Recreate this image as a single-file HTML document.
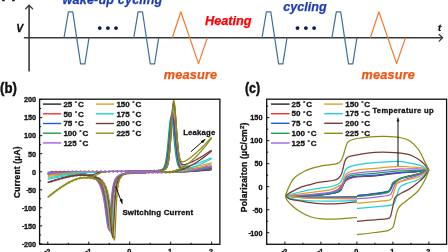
<!DOCTYPE html>
<html><head><meta charset="utf-8"><style>
html,body{margin:0;padding:0;background:#fff;width:448px;height:252px;overflow:hidden}
svg{display:block}
.b{font-family:"Liberation Sans",Arial,sans-serif;font-weight:bold;stroke:#111;stroke-width:0.3px}
.bi{font-family:"Liberation Sans",Arial,sans-serif;font-weight:bold;font-style:italic}
</style></head><body>
<svg width="448" height="252" viewBox="0 0 448 252">
<rect width="448" height="252" fill="#fff"/>
<g fill="none" stroke-linejoin="round">
<path d="M29.1,71.6 V5.8" stroke="#3a3a3a" stroke-width="1.6"/>
<path d="M25.7,8.7 L29.1,5.2 L32.6,8.7" stroke="#3a3a3a" stroke-width="1.3" stroke-linecap="round" stroke-linejoin="round"/>
<path d="M23.9,37.8 H442" stroke="#3a3a3a" stroke-width="1.6"/>
<path d="M439.2,34.5 L442.6,37.8 L439.2,41.1" stroke="#3a3a3a" stroke-width="1.3" stroke-linecap="round" stroke-linejoin="round"/>
<path d="M64,37.8 L68.4,11.8 L72.8,11.8 L80.6,63.8 L84.9,63.8 L89,37.8" stroke="#3f6e9f" stroke-width="1.2"/>
<path d="M133.7,37.8 L138.1,11.8 L142.5,11.8 L150.3,63.8 L154.6,63.8 L158.7,37.8" stroke="#3f6e9f" stroke-width="1.2"/>
<path d="M262,37.8 L266.4,11.8 L270.8,11.8 L278.6,63.8 L282.9,63.8 L287,37.8" stroke="#3f6e9f" stroke-width="1.2"/>
<path d="M331.9,37.8 L336.3,11.8 L340.7,11.8 L348.5,63.8 L352.8,63.8 L356.9,37.8" stroke="#3f6e9f" stroke-width="1.2"/>
<path d="M172.3,37.8 L180.8,11.8 L198.5,63.6 L207.4,37.8" stroke="#f07a30" stroke-width="1.2"/>
<path d="M370.4,37.8 L378.9,11.8 L396.6,63.6 L405.5,37.8" stroke="#f07a30" stroke-width="1.2"/>
</g>
<circle cx="99.75" cy="28.1" r="1.95" fill="#0e1e4e"/>
<circle cx="107.9" cy="28.1" r="1.95" fill="#0e1e4e"/>
<circle cx="116" cy="28.1" r="1.95" fill="#0e1e4e"/>
<circle cx="297.5" cy="28.1" r="1.95" fill="#0e1e4e"/>
<circle cx="305.9" cy="28.1" r="1.95" fill="#0e1e4e"/>
<circle cx="314.1" cy="28.1" r="1.95" fill="#0e1e4e"/>
<text x="62.6" y="3.7" class="bi" font-size="12.6" fill="#1c3cb5" stroke="#1c3cb5" stroke-width="0.25" textLength="99.6">wake-up cycling</text>
<text x="205" y="24.5" class="bi" font-size="12.7" fill="#ff0000" stroke="#ff0000" stroke-width="0.25">Heating</text>
<text x="283.2" y="11.2" class="bi" font-size="12.6" fill="#1c3cb5" stroke="#1c3cb5" stroke-width="0.25">cycling</text>
<text x="163.7" y="78.8" class="bi" font-size="12.7" fill="#f05412" stroke="#f05412" stroke-width="0.25" textLength="53.4">measure</text>
<text x="361.5" y="78.8" class="bi" font-size="12.7" fill="#f05412" stroke="#f05412" stroke-width="0.25" textLength="53.4">measure</text>
<text x="16.3" y="31.7" class="bi" font-size="10.4" fill="#111" stroke="#111" stroke-width="0.3">V</text>
<text x="438.1" y="31.2" class="bi" font-size="9.4" fill="#111" stroke="#111" stroke-width="0.3">t</text>
<text transform="translate(0,-2.4) scale(1,1.12)" class="b" font-size="13.6" fill="#111" style="stroke-width:0.4px" textLength="16.8" lengthAdjust="spacingAndGlyphs">(a)</text>
<text transform="translate(0,92.9) scale(1,1.12)" class="b" font-size="13.6" fill="#111" style="stroke-width:0.4px" textLength="16.8" lengthAdjust="spacingAndGlyphs">(b)</text>
<text transform="translate(244.9,93) scale(1,1.12)" class="b" font-size="13.6" fill="#111" style="stroke-width:0.4px" textLength="15.2" lengthAdjust="spacingAndGlyphs">(c)</text>
<g fill="none" stroke-width="1.15" stroke-linejoin="round">
<path d="M47.8,172.23 L48.31,172.22 L48.82,172.21 L49.34,172.2 L49.85,172.18 L50.36,172.17 L50.87,172.16 L51.38,172.15 L51.89,172.14 L52.41,172.12 L52.92,172.11 L53.43,172.1 L53.94,172.09 L54.45,172.08 L54.97,172.07 L55.48,172.06 L55.99,172.04 L56.5,172.03 L57.01,172.02 L57.53,172.01 L58.04,172 L58.55,171.99 L59.06,171.98 L59.57,171.97 L60.08,171.96 L60.6,171.95 L61.11,171.94 L61.62,171.93 L62.13,171.92 L62.64,171.91 L63.16,171.9 L63.67,171.89 L64.18,171.88 L64.69,171.87 L65.2,171.86 L65.72,171.85 L66.23,171.84 L66.74,171.83 L67.25,171.82 L67.76,171.81 L68.27,171.8 L68.79,171.79 L69.3,171.78 L69.81,171.78 L70.32,171.77 L70.83,171.76 L71.35,171.75 L71.86,171.74 L72.37,171.73 L72.88,171.73 L73.39,171.72 L73.91,171.71 L74.42,171.7 L74.93,171.69 L75.44,171.69 L75.95,171.68 L76.46,171.67 L76.98,171.67 L77.49,171.66 L78,171.65 L78.51,171.64 L79.02,171.64 L79.54,171.63 L80.05,171.62 L80.56,171.62 L81.07,171.61 L81.58,171.61 L82.1,171.6 L82.61,171.59 L83.12,171.59 L83.63,171.58 L84.14,171.58 L84.65,171.57 L85.17,171.57 L85.68,171.56 L86.19,171.56 L86.7,171.55 L87.21,171.55 L87.73,171.54 L88.24,171.54 L88.75,171.53 L89.26,171.53 L89.77,171.53 L90.29,171.52 L90.8,171.52 L91.31,171.52 L91.82,171.51 L92.33,171.51 L92.84,171.51 L93.36,171.51 L93.87,171.51 L94.38,171.5 L94.89,171.5 L95.4,171.5 L95.92,171.5 L96.43,171.5 L96.94,171.5 L97.45,171.5 L97.96,171.5 L98.48,171.5 L98.99,171.5 L99.5,171.5 L100.01,171.5 L100.52,171.5 L101.03,171.5 L101.55,171.5 L102.06,171.5 L102.57,171.5 L103.08,171.5 L103.59,171.5 L104.11,171.49 L104.62,171.49 L105.13,171.49 L105.64,171.49 L106.15,171.49 L106.67,171.49 L107.18,171.49 L107.69,171.49 L108.2,171.49 L108.71,171.49 L109.22,171.49 L109.74,171.49 L110.25,171.49 L110.76,171.49 L111.27,171.49 L111.78,171.48 L112.3,171.48 L112.81,171.48 L113.32,171.48 L113.83,171.48 L114.34,171.48 L114.86,171.48 L115.37,171.48 L115.88,171.48 L116.39,171.48 L116.9,171.47 L117.41,171.47 L117.93,171.47 L118.44,171.47 L118.95,171.47 L119.46,171.47 L119.97,171.47 L120.49,171.47 L121,171.47 L121.51,171.46 L122.02,171.46 L122.53,171.46 L123.05,171.46 L123.56,171.46 L124.07,171.46 L124.58,171.45 L125.09,171.45 L125.6,171.45 L126.12,171.45 L126.63,171.45 L127.14,171.45 L127.65,171.44 L128.16,171.44 L128.68,171.44 L129.19,171.44 L129.7,171.43 L130.21,171.43 L130.72,171.43 L131.24,171.43 L131.75,171.42 L132.26,171.42 L132.77,171.42 L133.28,171.42 L133.79,171.41 L134.31,171.41 L134.82,171.41 L135.33,171.4 L135.84,171.4 L136.35,171.4 L136.87,171.39 L137.38,171.39 L137.89,171.38 L138.4,171.38 L138.91,171.37 L139.43,171.37 L139.94,171.36 L140.45,171.36 L140.96,171.35 L141.47,171.35 L141.98,171.34 L142.5,171.33 L143.01,171.33 L143.52,171.32 L144.03,171.31 L144.54,171.3 L145.06,171.29 L145.57,171.28 L146.08,171.28 L146.59,171.26 L147.1,171.25 L147.62,171.24 L148.13,171.23 L148.64,171.22 L149.15,171.2 L149.66,171.19 L150.17,171.17 L150.69,171.16 L151.2,171.14 L151.71,171.12 L152.22,171.1 L152.73,171.08 L153.25,171.05 L153.76,171.02 L154.27,171 L154.78,170.97 L155.29,170.93 L155.81,170.9 L156.32,170.86 L156.83,170.81 L157.34,170.76 L157.85,170.71 L158.37,170.65 L158.88,170.59 L159.39,170.52 L159.9,170.43 L160.41,170.34 L160.92,170.24 L161.44,170.11 L161.95,169.96 L162.46,169.78 L162.97,169.54 L163.48,169.23 L164,168.81 L164.51,168.22 L165.02,167.41 L165.53,166.28 L166.04,164.75 L166.55,162.71 L167.07,160.05 L167.58,156.7 L168.09,152.61 L168.6,147.81 L169.11,142.4 L169.63,136.59 L170.14,130.68 L170.65,125.1 L171.16,120.35 L171.67,116.99 L172.19,115.51 L172.7,116.05 L173.21,118.39 L173.72,122.19 L174.23,127.02 L174.75,132.4 L175.26,137.94 L175.77,143.32 L176.28,148.29 L176.79,152.71 L177.3,156.5 L177.82,159.63 L178.33,162.15 L178.84,164.12 L179.35,165.61 L179.86,166.73 L180.38,167.55 L180.89,168.15 L181.4,168.58 L181.91,168.89 L182.42,169.12 L182.94,169.3 L183.45,169.43 L183.96,169.54 L184.47,169.62 L184.98,169.69 L185.49,169.75 L186.01,169.8 L186.52,169.84 L187.03,169.87 L187.54,169.9 L188.05,169.92 L188.57,169.94 L189.08,169.95 L189.59,169.96 L190.1,169.96 L190.61,169.96 L191.12,169.96 L191.64,169.96 L192.15,169.95 L192.66,169.94 L193.17,169.93 L193.68,169.92 L194.2,169.91 L194.71,169.89 L195.22,169.87 L195.73,169.85 L196.24,169.83 L196.76,169.81 L197.27,169.79 L197.78,169.77 L198.29,169.74 L198.8,169.72 L199.31,169.69 L199.83,169.67 L200.34,169.64 L200.85,169.61 L201.36,169.58 L201.87,169.55 L202.39,169.52 L202.9,169.49 L203.41,169.46 L203.92,169.42 L204.43,169.39 L204.95,169.36 L205.46,169.32 L205.97,169.29 L206.48,169.25 L206.99,169.22 L207.5,169.18 L208.02,169.14 L208.53,169.11 L209.04,169.07 L209.55,169.03 L210.06,168.99 L210.58,168.95 L211.09,168.92 L211.6,168.88" stroke="#222222"/>
<path d="M47.8,173.31 L48.31,173.31 L48.82,173.3 L49.34,173.29 L49.85,173.29 L50.36,173.28 L50.87,173.27 L51.38,173.27 L51.89,173.26 L52.41,173.26 L52.92,173.25 L53.43,173.24 L53.94,173.24 L54.45,173.23 L54.97,173.23 L55.48,173.23 L55.99,173.22 L56.5,173.22 L57.01,173.22 L57.53,173.21 L58.04,173.21 L58.55,173.21 L59.06,173.21 L59.57,173.21 L60.08,173.2 L60.6,173.2 L61.11,173.2 L61.62,173.2 L62.13,173.2 L62.64,173.2 L63.16,173.21 L63.67,173.21 L64.18,173.21 L64.69,173.21 L65.2,173.22 L65.72,173.22 L66.23,173.23 L66.74,173.23 L67.25,173.24 L67.76,173.24 L68.27,173.25 L68.79,173.26 L69.3,173.27 L69.81,173.28 L70.32,173.29 L70.83,173.3 L71.35,173.31 L71.86,173.32 L72.37,173.33 L72.88,173.35 L73.39,173.37 L73.91,173.38 L74.42,173.4 L74.93,173.42 L75.44,173.44 L75.95,173.46 L76.46,173.49 L76.98,173.51 L77.49,173.54 L78,173.57 L78.51,173.6 L79.02,173.63 L79.54,173.66 L80.05,173.7 L80.56,173.74 L81.07,173.78 L81.58,173.82 L82.1,173.87 L82.61,173.92 L83.12,173.97 L83.63,174.03 L84.14,174.09 L84.65,174.15 L85.17,174.22 L85.68,174.29 L86.19,174.37 L86.7,174.45 L87.21,174.54 L87.73,174.64 L88.24,174.74 L88.75,174.85 L89.26,174.97 L89.77,175.1 L90.29,175.24 L90.8,175.39 L91.31,175.55 L91.82,175.73 L92.33,175.92 L92.84,176.13 L93.36,176.35 L93.87,176.6 L94.38,176.87 L94.89,177.16 L95.4,177.49 L95.92,177.84 L96.43,178.24 L96.94,178.67 L97.45,179.15 L97.96,179.69 L98.48,180.28 L98.99,180.95 L99.5,181.7 L100.01,182.54 L100.52,183.49 L101.03,184.57 L101.55,185.8 L102.06,187.19 L102.57,188.78 L103.08,190.6 L103.59,192.68 L104.11,195.05 L104.62,197.75 L105.13,200.81 L105.64,204.23 L106.15,208 L106.67,212.06 L107.18,216.25 L107.69,220.37 L108.2,224.09 L108.71,227.04 L109.22,228.86 L109.74,229.22 L110.25,225.75 L110.76,218.86 L111.27,210.94 L111.78,203.64 L112.3,197.57 L112.81,192.77 L113.32,189.03 L113.83,186.13 L114.34,183.86 L114.86,182.07 L115.37,180.65 L115.88,179.5 L116.39,178.56 L116.9,177.79 L117.41,177.15 L117.93,176.62 L118.44,176.16 L118.95,175.77 L119.46,175.44 L119.97,175.15 L120.49,174.9 L121,174.68 L121.51,174.49 L122.02,174.31 L122.53,174.16 L123.05,174.03 L123.56,173.9 L124.07,173.79 L124.58,173.7 L125.09,173.61 L125.6,173.53 L126.12,173.45 L126.63,173.38 L127.14,173.32 L127.65,173.27 L128.16,173.21 L128.68,173.17 L129.19,173.12 L129.7,173.08 L130.21,173.04 L130.72,173.01 L131.24,172.97 L131.75,172.94 L132.26,172.91 L132.77,172.89 L133.28,172.86 L133.79,172.84 L134.31,172.82 L134.82,172.79 L135.33,172.77 L135.84,172.76 L136.35,172.74 L136.87,172.72 L137.38,172.71 L137.89,172.69 L138.4,172.68 L138.91,172.66 L139.43,172.65 L139.94,172.64 L140.45,172.63 L140.96,172.62 L141.47,172.61 L141.98,172.6 L142.5,172.59 L143.01,172.58 L143.52,172.57 L144.03,172.56 L144.54,172.55 L145.06,172.55 L145.57,172.54 L146.08,172.53 L146.59,172.53 L147.1,172.52 L147.62,172.51 L148.13,172.51 L148.64,172.5 L149.15,172.5 L149.66,172.49 L150.17,172.49 L150.69,172.48 L151.2,172.48 L151.71,172.47 L152.22,172.47 L152.73,172.46 L153.25,172.46 L153.76,172.46 L154.27,172.45 L154.78,172.45 L155.29,172.45 L155.81,172.44 L156.32,172.44 L156.83,172.44 L157.34,172.43 L157.85,172.43 L158.37,172.43 L158.88,172.42 L159.39,172.42 L159.9,172.42 L160.41,172.42 L160.92,172.41 L161.44,172.41 L161.95,172.41 L162.46,172.41 L162.97,172.4 L163.48,172.4 L164,172.4 L164.51,172.4 L165.02,172.4 L165.53,172.39 L166.04,172.39 L166.55,172.39 L167.07,172.39 L167.58,172.38 L168.09,172.38 L168.6,172.38 L169.11,172.37 L169.63,172.36 L170.14,172.36 L170.65,172.35 L171.16,172.34 L171.67,172.33 L172.19,172.32 L172.7,172.31 L173.21,172.3 L173.72,172.29 L174.23,172.27 L174.75,172.26 L175.26,172.25 L175.77,172.23 L176.28,172.22 L176.79,172.2 L177.3,172.18 L177.82,172.17 L178.33,172.15 L178.84,172.13 L179.35,172.11 L179.86,172.09 L180.38,172.07 L180.89,172.05 L181.4,172.03 L181.91,172.01 L182.42,171.99 L182.94,171.96 L183.45,171.94 L183.96,171.91 L184.47,171.89 L184.98,171.86 L185.49,171.84 L186.01,171.81 L186.52,171.79 L187.03,171.76 L187.54,171.73 L188.05,171.7 L188.57,171.67 L189.08,171.64 L189.59,171.61 L190.1,171.58 L190.61,171.55 L191.12,171.52 L191.64,171.48 L192.15,171.45 L192.66,171.42 L193.17,171.38 L193.68,171.35 L194.2,171.31 L194.71,171.28 L195.22,171.24 L195.73,171.2 L196.24,171.17 L196.76,171.13 L197.27,171.09 L197.78,171.05 L198.29,171.01 L198.8,170.97 L199.31,170.93 L199.83,170.89 L200.34,170.85 L200.85,170.8 L201.36,170.76 L201.87,170.72 L202.39,170.67 L202.9,170.63 L203.41,170.58 L203.92,170.54 L204.43,170.49 L204.95,170.45 L205.46,170.4 L205.97,170.35 L206.48,170.3 L206.99,170.26 L207.5,170.21 L208.02,170.16 L208.53,170.11 L209.04,170.06 L209.55,170.01 L210.06,169.95 L210.58,169.9 L211.09,169.85 L211.6,169.8" stroke="#222222"/>
<path d="M50.94,172.14a0.95,0.95 0 1,0 1.9,0a0.95,0.95 0 1,0 -1.9,0M55.04,172.04a0.95,0.95 0 1,0 1.9,0a0.95,0.95 0 1,0 -1.9,0M59.13,171.96a0.95,0.95 0 1,0 1.9,0a0.95,0.95 0 1,0 -1.9,0M63.23,171.88a0.95,0.95 0 1,0 1.9,0a0.95,0.95 0 1,0 -1.9,0M67.32,171.8a0.95,0.95 0 1,0 1.9,0a0.95,0.95 0 1,0 -1.9,0M71.42,171.73a0.95,0.95 0 1,0 1.9,0a0.95,0.95 0 1,0 -1.9,0M75.51,171.67a0.95,0.95 0 1,0 1.9,0a0.95,0.95 0 1,0 -1.9,0M79.61,171.62a0.95,0.95 0 1,0 1.9,0a0.95,0.95 0 1,0 -1.9,0M83.7,171.57a0.95,0.95 0 1,0 1.9,0a0.95,0.95 0 1,0 -1.9,0M87.8,171.53a0.95,0.95 0 1,0 1.9,0a0.95,0.95 0 1,0 -1.9,0M91.89,171.51a0.95,0.95 0 1,0 1.9,0a0.95,0.95 0 1,0 -1.9,0M95.99,171.5a0.95,0.95 0 1,0 1.9,0a0.95,0.95 0 1,0 -1.9,0M100.08,171.5a0.95,0.95 0 1,0 1.9,0a0.95,0.95 0 1,0 -1.9,0M104.18,171.49a0.95,0.95 0 1,0 1.9,0a0.95,0.95 0 1,0 -1.9,0M108.27,171.49a0.95,0.95 0 1,0 1.9,0a0.95,0.95 0 1,0 -1.9,0M112.37,171.48a0.95,0.95 0 1,0 1.9,0a0.95,0.95 0 1,0 -1.9,0M116.46,171.47a0.95,0.95 0 1,0 1.9,0a0.95,0.95 0 1,0 -1.9,0M120.56,171.46a0.95,0.95 0 1,0 1.9,0a0.95,0.95 0 1,0 -1.9,0M124.65,171.45a0.95,0.95 0 1,0 1.9,0a0.95,0.95 0 1,0 -1.9,0M128.75,171.43a0.95,0.95 0 1,0 1.9,0a0.95,0.95 0 1,0 -1.9,0M132.84,171.41a0.95,0.95 0 1,0 1.9,0a0.95,0.95 0 1,0 -1.9,0M136.94,171.38a0.95,0.95 0 1,0 1.9,0a0.95,0.95 0 1,0 -1.9,0M141.03,171.34a0.95,0.95 0 1,0 1.9,0a0.95,0.95 0 1,0 -1.9,0M145.13,171.28a0.95,0.95 0 1,0 1.9,0a0.95,0.95 0 1,0 -1.9,0M149.22,171.17a0.95,0.95 0 1,0 1.9,0a0.95,0.95 0 1,0 -1.9,0M153.32,171a0.95,0.95 0 1,0 1.9,0a0.95,0.95 0 1,0 -1.9,0M157.42,170.65a0.95,0.95 0 1,0 1.9,0a0.95,0.95 0 1,0 -1.9,0M161.51,169.78a0.95,0.95 0 1,0 1.9,0a0.95,0.95 0 1,0 -1.9,0M164.58,166.28a0.95,0.95 0 1,0 1.9,0a0.95,0.95 0 1,0 -1.9,0M179.94,168.15a0.95,0.95 0 1,0 1.9,0a0.95,0.95 0 1,0 -1.9,0M184.03,169.69a0.95,0.95 0 1,0 1.9,0a0.95,0.95 0 1,0 -1.9,0M188.13,169.95a0.95,0.95 0 1,0 1.9,0a0.95,0.95 0 1,0 -1.9,0M192.22,169.93a0.95,0.95 0 1,0 1.9,0a0.95,0.95 0 1,0 -1.9,0M196.32,169.79a0.95,0.95 0 1,0 1.9,0a0.95,0.95 0 1,0 -1.9,0M200.41,169.58a0.95,0.95 0 1,0 1.9,0a0.95,0.95 0 1,0 -1.9,0M204.51,169.32a0.95,0.95 0 1,0 1.9,0a0.95,0.95 0 1,0 -1.9,0M208.6,169.03a0.95,0.95 0 1,0 1.9,0a0.95,0.95 0 1,0 -1.9,0" stroke="#222222" stroke-width="0.55"/>
<path d="M47.8,172.59 L48.31,172.57 L48.82,172.55 L49.34,172.53 L49.85,172.51 L50.36,172.5 L50.87,172.48 L51.38,172.46 L51.89,172.44 L52.41,172.42 L52.92,172.41 L53.43,172.39 L53.94,172.37 L54.45,172.36 L54.97,172.34 L55.48,172.32 L55.99,172.31 L56.5,172.29 L57.01,172.27 L57.53,172.26 L58.04,172.24 L58.55,172.22 L59.06,172.21 L59.57,172.19 L60.08,172.18 L60.6,172.16 L61.11,172.15 L61.62,172.13 L62.13,172.11 L62.64,172.1 L63.16,172.08 L63.67,172.07 L64.18,172.06 L64.69,172.04 L65.2,172.03 L65.72,172.01 L66.23,172 L66.74,171.98 L67.25,171.97 L67.76,171.96 L68.27,171.94 L68.79,171.93 L69.3,171.92 L69.81,171.9 L70.32,171.89 L70.83,171.88 L71.35,171.87 L71.86,171.85 L72.37,171.84 L72.88,171.83 L73.39,171.82 L73.91,171.81 L74.42,171.79 L74.93,171.78 L75.44,171.77 L75.95,171.76 L76.46,171.75 L76.98,171.74 L77.49,171.73 L78,171.72 L78.51,171.71 L79.02,171.7 L79.54,171.69 L80.05,171.68 L80.56,171.67 L81.07,171.66 L81.58,171.65 L82.1,171.64 L82.61,171.63 L83.12,171.63 L83.63,171.62 L84.14,171.61 L84.65,171.6 L85.17,171.59 L85.68,171.59 L86.19,171.58 L86.7,171.57 L87.21,171.57 L87.73,171.56 L88.24,171.55 L88.75,171.55 L89.26,171.54 L89.77,171.54 L90.29,171.53 L90.8,171.53 L91.31,171.52 L91.82,171.52 L92.33,171.51 L92.84,171.51 L93.36,171.51 L93.87,171.5 L94.38,171.5 L94.89,171.5 L95.4,171.5 L95.92,171.5 L96.43,171.5 L96.94,171.5 L97.45,171.5 L97.96,171.5 L98.48,171.5 L98.99,171.5 L99.5,171.5 L100.01,171.5 L100.52,171.5 L101.03,171.5 L101.55,171.5 L102.06,171.5 L102.57,171.49 L103.08,171.49 L103.59,171.49 L104.11,171.49 L104.62,171.49 L105.13,171.49 L105.64,171.49 L106.15,171.49 L106.67,171.49 L107.18,171.49 L107.69,171.49 L108.2,171.49 L108.71,171.49 L109.22,171.49 L109.74,171.49 L110.25,171.48 L110.76,171.48 L111.27,171.48 L111.78,171.48 L112.3,171.48 L112.81,171.48 L113.32,171.48 L113.83,171.48 L114.34,171.48 L114.86,171.48 L115.37,171.48 L115.88,171.47 L116.39,171.47 L116.9,171.47 L117.41,171.47 L117.93,171.47 L118.44,171.47 L118.95,171.47 L119.46,171.47 L119.97,171.46 L120.49,171.46 L121,171.46 L121.51,171.46 L122.02,171.46 L122.53,171.46 L123.05,171.46 L123.56,171.45 L124.07,171.45 L124.58,171.45 L125.09,171.45 L125.6,171.45 L126.12,171.45 L126.63,171.44 L127.14,171.44 L127.65,171.44 L128.16,171.44 L128.68,171.43 L129.19,171.43 L129.7,171.43 L130.21,171.43 L130.72,171.43 L131.24,171.42 L131.75,171.42 L132.26,171.42 L132.77,171.41 L133.28,171.41 L133.79,171.41 L134.31,171.4 L134.82,171.4 L135.33,171.4 L135.84,171.39 L136.35,171.39 L136.87,171.39 L137.38,171.38 L137.89,171.38 L138.4,171.37 L138.91,171.37 L139.43,171.36 L139.94,171.36 L140.45,171.35 L140.96,171.34 L141.47,171.34 L141.98,171.33 L142.5,171.33 L143.01,171.32 L143.52,171.31 L144.03,171.3 L144.54,171.29 L145.06,171.29 L145.57,171.28 L146.08,171.27 L146.59,171.26 L147.1,171.25 L147.62,171.23 L148.13,171.22 L148.64,171.21 L149.15,171.19 L149.66,171.18 L150.17,171.16 L150.69,171.15 L151.2,171.13 L151.71,171.11 L152.22,171.09 L152.73,171.06 L153.25,171.04 L153.76,171.01 L154.27,170.99 L154.78,170.96 L155.29,170.92 L155.81,170.89 L156.32,170.85 L156.83,170.8 L157.34,170.76 L157.85,170.7 L158.37,170.65 L158.88,170.58 L159.39,170.51 L159.9,170.43 L160.41,170.34 L160.92,170.24 L161.44,170.13 L161.95,169.99 L162.46,169.83 L162.97,169.62 L163.48,169.35 L164,169 L164.51,168.52 L165.02,167.85 L165.53,166.93 L166.04,165.66 L166.55,163.93 L167.07,161.63 L167.58,158.65 L168.09,154.92 L168.6,150.41 L169.11,145.15 L169.63,139.29 L170.14,133.05 L170.65,126.79 L171.16,120.97 L171.67,116.16 L172.19,112.95 L172.7,111.8 L173.21,112.78 L173.72,115.61 L174.23,119.91 L174.75,125.2 L175.26,130.99 L175.77,136.88 L176.28,142.53 L176.79,147.71 L177.3,152.28 L177.82,156.16 L178.33,159.36 L178.84,161.91 L179.35,163.89 L179.86,165.39 L180.38,166.5 L180.89,167.32 L181.4,167.91 L181.91,168.33 L182.42,168.64 L182.94,168.87 L183.45,169.04 L183.96,169.17 L184.47,169.27 L184.98,169.35 L185.49,169.41 L186.01,169.47 L186.52,169.51 L187.03,169.54 L187.54,169.57 L188.05,169.59 L188.57,169.6 L189.08,169.61 L189.59,169.62 L190.1,169.62 L190.61,169.62 L191.12,169.61 L191.64,169.6 L192.15,169.59 L192.66,169.57 L193.17,169.56 L193.68,169.54 L194.2,169.52 L194.71,169.49 L195.22,169.47 L195.73,169.44 L196.24,169.41 L196.76,169.38 L197.27,169.35 L197.78,169.32 L198.29,169.29 L198.8,169.25 L199.31,169.22 L199.83,169.18 L200.34,169.14 L200.85,169.11 L201.36,169.07 L201.87,169.03 L202.39,168.99 L202.9,168.94 L203.41,168.9 L203.92,168.86 L204.43,168.82 L204.95,168.77 L205.46,168.73 L205.97,168.68 L206.48,168.63 L206.99,168.59 L207.5,168.54 L208.02,168.49 L208.53,168.44 L209.04,168.39 L209.55,168.35 L210.06,168.3 L210.58,168.24 L211.09,168.19 L211.6,168.14" stroke="#f53030"/>
<path d="M47.8,173.68 L48.31,173.67 L48.82,173.65 L49.34,173.64 L49.85,173.63 L50.36,173.62 L50.87,173.6 L51.38,173.59 L51.89,173.58 L52.41,173.57 L52.92,173.56 L53.43,173.55 L53.94,173.53 L54.45,173.52 L54.97,173.51 L55.48,173.5 L55.99,173.5 L56.5,173.49 L57.01,173.48 L57.53,173.47 L58.04,173.46 L58.55,173.45 L59.06,173.45 L59.57,173.44 L60.08,173.43 L60.6,173.43 L61.11,173.42 L61.62,173.42 L62.13,173.41 L62.64,173.41 L63.16,173.41 L63.67,173.4 L64.18,173.4 L64.69,173.4 L65.2,173.4 L65.72,173.4 L66.23,173.4 L66.74,173.4 L67.25,173.4 L67.76,173.4 L68.27,173.4 L68.79,173.41 L69.3,173.41 L69.81,173.42 L70.32,173.42 L70.83,173.43 L71.35,173.44 L71.86,173.44 L72.37,173.45 L72.88,173.46 L73.39,173.48 L73.91,173.49 L74.42,173.5 L74.93,173.52 L75.44,173.54 L75.95,173.55 L76.46,173.57 L76.98,173.59 L77.49,173.62 L78,173.64 L78.51,173.67 L79.02,173.7 L79.54,173.73 L80.05,173.76 L80.56,173.8 L81.07,173.83 L81.58,173.87 L82.1,173.92 L82.61,173.96 L83.12,174.01 L83.63,174.06 L84.14,174.12 L84.65,174.18 L85.17,174.25 L85.68,174.32 L86.19,174.39 L86.7,174.47 L87.21,174.56 L87.73,174.65 L88.24,174.75 L88.75,174.85 L89.26,174.97 L89.77,175.09 L90.29,175.22 L90.8,175.37 L91.31,175.52 L91.82,175.69 L92.33,175.88 L92.84,176.08 L93.36,176.29 L93.87,176.53 L94.38,176.79 L94.89,177.07 L95.4,177.38 L95.92,177.72 L96.43,178.1 L96.94,178.51 L97.45,178.97 L97.96,179.47 L98.48,180.04 L98.99,180.67 L99.5,181.37 L100.01,182.16 L100.52,183.05 L101.03,184.06 L101.55,185.2 L102.06,186.5 L102.57,187.97 L103.08,189.66 L103.59,191.58 L104.11,193.79 L104.62,196.3 L105.13,199.16 L105.64,202.39 L106.15,206 L106.67,209.95 L107.18,214.17 L107.69,218.51 L108.2,222.7 L108.71,226.41 L109.22,229.25 L109.74,230.86 L110.25,230.7 L110.76,226.22 L111.27,218.71 L111.78,210.58 L112.3,203.27 L112.81,197.28 L113.32,192.56 L113.83,188.9 L114.34,186.05 L114.86,183.82 L115.37,182.06 L115.88,180.65 L116.39,179.52 L116.9,178.59 L117.41,177.83 L117.93,177.19 L118.44,176.65 L118.95,176.2 L119.46,175.81 L119.97,175.48 L120.49,175.19 L121,174.93 L121.51,174.71 L122.02,174.52 L122.53,174.35 L123.05,174.19 L123.56,174.05 L124.07,173.93 L124.58,173.82 L125.09,173.72 L125.6,173.63 L126.12,173.55 L126.63,173.47 L127.14,173.41 L127.65,173.34 L128.16,173.29 L128.68,173.23 L129.19,173.18 L129.7,173.14 L130.21,173.1 L130.72,173.06 L131.24,173.02 L131.75,172.99 L132.26,172.96 L132.77,172.93 L133.28,172.9 L133.79,172.87 L134.31,172.85 L134.82,172.83 L135.33,172.81 L135.84,172.79 L136.35,172.77 L136.87,172.75 L137.38,172.73 L137.89,172.72 L138.4,172.7 L138.91,172.69 L139.43,172.67 L139.94,172.66 L140.45,172.65 L140.96,172.64 L141.47,172.63 L141.98,172.62 L142.5,172.6 L143.01,172.6 L143.52,172.59 L144.03,172.58 L144.54,172.57 L145.06,172.56 L145.57,172.55 L146.08,172.55 L146.59,172.54 L147.1,172.53 L147.62,172.53 L148.13,172.52 L148.64,172.51 L149.15,172.51 L149.66,172.5 L150.17,172.5 L150.69,172.49 L151.2,172.49 L151.71,172.48 L152.22,172.48 L152.73,172.47 L153.25,172.47 L153.76,172.46 L154.27,172.46 L154.78,172.46 L155.29,172.45 L155.81,172.45 L156.32,172.45 L156.83,172.44 L157.34,172.44 L157.85,172.44 L158.37,172.43 L158.88,172.43 L159.39,172.43 L159.9,172.42 L160.41,172.42 L160.92,172.42 L161.44,172.42 L161.95,172.41 L162.46,172.41 L162.97,172.41 L163.48,172.41 L164,172.41 L164.51,172.4 L165.02,172.4 L165.53,172.4 L166.04,172.4 L166.55,172.4 L167.07,172.39 L167.58,172.39 L168.09,172.38 L168.6,172.38 L169.11,172.37 L169.63,172.36 L170.14,172.35 L170.65,172.34 L171.16,172.33 L171.67,172.32 L172.19,172.31 L172.7,172.29 L173.21,172.28 L173.72,172.26 L174.23,172.25 L174.75,172.23 L175.26,172.21 L175.77,172.2 L176.28,172.18 L176.79,172.16 L177.3,172.14 L177.82,172.11 L178.33,172.09 L178.84,172.07 L179.35,172.04 L179.86,172.02 L180.38,171.99 L180.89,171.97 L181.4,171.94 L181.91,171.91 L182.42,171.88 L182.94,171.85 L183.45,171.82 L183.96,171.79 L184.47,171.76 L184.98,171.73 L185.49,171.7 L186.01,171.66 L186.52,171.63 L187.03,171.59 L187.54,171.56 L188.05,171.52 L188.57,171.48 L189.08,171.44 L189.59,171.4 L190.1,171.36 L190.61,171.32 L191.12,171.28 L191.64,171.24 L192.15,171.2 L192.66,171.16 L193.17,171.11 L193.68,171.07 L194.2,171.02 L194.71,170.98 L195.22,170.93 L195.73,170.88 L196.24,170.83 L196.76,170.78 L197.27,170.74 L197.78,170.69 L198.29,170.63 L198.8,170.58 L199.31,170.53 L199.83,170.48 L200.34,170.42 L200.85,170.37 L201.36,170.31 L201.87,170.26 L202.39,170.2 L202.9,170.15 L203.41,170.09 L203.92,170.03 L204.43,169.97 L204.95,169.91 L205.46,169.85 L205.97,169.79 L206.48,169.73 L206.99,169.67 L207.5,169.6 L208.02,169.54 L208.53,169.47 L209.04,169.41 L209.55,169.34 L210.06,169.28 L210.58,169.21 L211.09,169.14 L211.6,169.07" stroke="#f53030"/>
<path d="M47.8,173.3 L48.31,173.27 L48.82,173.24 L49.34,173.21 L49.85,173.18 L50.36,173.15 L50.87,173.12 L51.38,173.09 L51.89,173.06 L52.41,173.03 L52.92,173 L53.43,172.97 L53.94,172.94 L54.45,172.91 L54.97,172.89 L55.48,172.86 L55.99,172.83 L56.5,172.8 L57.01,172.77 L57.53,172.75 L58.04,172.72 L58.55,172.69 L59.06,172.67 L59.57,172.64 L60.08,172.61 L60.6,172.59 L61.11,172.56 L61.62,172.54 L62.13,172.51 L62.64,172.49 L63.16,172.46 L63.67,172.44 L64.18,172.41 L64.69,172.39 L65.2,172.37 L65.72,172.34 L66.23,172.32 L66.74,172.3 L67.25,172.27 L67.76,172.25 L68.27,172.23 L68.79,172.21 L69.3,172.19 L69.81,172.16 L70.32,172.14 L70.83,172.12 L71.35,172.1 L71.86,172.08 L72.37,172.06 L72.88,172.04 L73.39,172.02 L73.91,172 L74.42,171.98 L74.93,171.96 L75.44,171.95 L75.95,171.93 L76.46,171.91 L76.98,171.89 L77.49,171.87 L78,171.86 L78.51,171.84 L79.02,171.82 L79.54,171.81 L80.05,171.79 L80.56,171.78 L81.07,171.76 L81.58,171.75 L82.1,171.73 L82.61,171.72 L83.12,171.7 L83.63,171.69 L84.14,171.68 L84.65,171.66 L85.17,171.65 L85.68,171.64 L86.19,171.63 L86.7,171.62 L87.21,171.61 L87.73,171.59 L88.24,171.58 L88.75,171.57 L89.26,171.57 L89.77,171.56 L90.29,171.55 L90.8,171.54 L91.31,171.53 L91.82,171.53 L92.33,171.52 L92.84,171.52 L93.36,171.51 L93.87,171.51 L94.38,171.5 L94.89,171.5 L95.4,171.5 L95.92,171.5 L96.43,171.5 L96.94,171.5 L97.45,171.5 L97.96,171.5 L98.48,171.5 L98.99,171.5 L99.5,171.5 L100.01,171.5 L100.52,171.5 L101.03,171.5 L101.55,171.5 L102.06,171.5 L102.57,171.49 L103.08,171.49 L103.59,171.49 L104.11,171.49 L104.62,171.49 L105.13,171.49 L105.64,171.49 L106.15,171.49 L106.67,171.49 L107.18,171.49 L107.69,171.49 L108.2,171.49 L108.71,171.49 L109.22,171.49 L109.74,171.49 L110.25,171.48 L110.76,171.48 L111.27,171.48 L111.78,171.48 L112.3,171.48 L112.81,171.48 L113.32,171.48 L113.83,171.48 L114.34,171.48 L114.86,171.48 L115.37,171.48 L115.88,171.47 L116.39,171.47 L116.9,171.47 L117.41,171.47 L117.93,171.47 L118.44,171.47 L118.95,171.47 L119.46,171.47 L119.97,171.46 L120.49,171.46 L121,171.46 L121.51,171.46 L122.02,171.46 L122.53,171.46 L123.05,171.46 L123.56,171.45 L124.07,171.45 L124.58,171.45 L125.09,171.45 L125.6,171.45 L126.12,171.45 L126.63,171.44 L127.14,171.44 L127.65,171.44 L128.16,171.44 L128.68,171.43 L129.19,171.43 L129.7,171.43 L130.21,171.43 L130.72,171.42 L131.24,171.42 L131.75,171.42 L132.26,171.42 L132.77,171.41 L133.28,171.41 L133.79,171.41 L134.31,171.4 L134.82,171.4 L135.33,171.4 L135.84,171.39 L136.35,171.39 L136.87,171.38 L137.38,171.38 L137.89,171.37 L138.4,171.37 L138.91,171.36 L139.43,171.36 L139.94,171.35 L140.45,171.35 L140.96,171.34 L141.47,171.33 L141.98,171.33 L142.5,171.32 L143.01,171.31 L143.52,171.31 L144.03,171.3 L144.54,171.29 L145.06,171.28 L145.57,171.27 L146.08,171.26 L146.59,171.25 L147.1,171.24 L147.62,171.22 L148.13,171.21 L148.64,171.2 L149.15,171.18 L149.66,171.16 L150.17,171.15 L150.69,171.13 L151.2,171.11 L151.71,171.09 L152.22,171.07 L152.73,171.04 L153.25,171.01 L153.76,170.98 L154.27,170.95 L154.78,170.92 L155.29,170.88 L155.81,170.84 L156.32,170.8 L156.83,170.75 L157.34,170.7 L157.85,170.64 L158.37,170.57 L158.88,170.5 L159.39,170.42 L159.9,170.32 L160.41,170.22 L160.92,170.09 L161.44,169.95 L161.95,169.76 L162.46,169.53 L162.97,169.23 L163.48,168.82 L164,168.25 L164.51,167.46 L165.02,166.38 L165.53,164.89 L166.04,162.9 L166.55,160.29 L167.07,156.97 L167.58,152.9 L168.09,148.08 L168.6,142.61 L169.11,136.67 L169.63,130.56 L170.14,124.68 L170.65,119.56 L171.16,115.75 L171.67,113.8 L172.19,113.95 L172.7,116 L173.21,119.65 L173.72,124.45 L174.23,129.92 L174.75,135.63 L175.26,141.23 L175.77,146.45 L176.28,151.12 L176.79,155.15 L177.3,158.51 L177.82,161.22 L178.33,163.35 L178.84,164.97 L179.35,166.19 L179.86,167.08 L180.38,167.72 L180.89,168.18 L181.4,168.51 L181.91,168.75 L182.42,168.93 L182.94,169.06 L183.45,169.16 L183.96,169.24 L184.47,169.3 L184.98,169.35 L185.49,169.39 L186.01,169.41 L186.52,169.43 L187.03,169.45 L187.54,169.46 L188.05,169.46 L188.57,169.45 L189.08,169.45 L189.59,169.44 L190.1,169.42 L190.61,169.41 L191.12,169.38 L191.64,169.36 L192.15,169.34 L192.66,169.31 L193.17,169.28 L193.68,169.25 L194.2,169.21 L194.71,169.18 L195.22,169.14 L195.73,169.1 L196.24,169.06 L196.76,169.02 L197.27,168.98 L197.78,168.93 L198.29,168.89 L198.8,168.84 L199.31,168.8 L199.83,168.75 L200.34,168.7 L200.85,168.65 L201.36,168.6 L201.87,168.55 L202.39,168.49 L202.9,168.44 L203.41,168.39 L203.92,168.33 L204.43,168.28 L204.95,168.22 L205.46,168.16 L205.97,168.1 L206.48,168.05 L206.99,167.99 L207.5,167.93 L208.02,167.87 L208.53,167.81 L209.04,167.75 L209.55,167.68 L210.06,167.62 L210.58,167.56 L211.09,167.49 L211.6,167.43" stroke="#1f5ae6"/>
<path d="M47.8,174.37 L48.31,174.35 L48.82,174.32 L49.34,174.29 L49.85,174.27 L50.36,174.24 L50.87,174.22 L51.38,174.19 L51.89,174.17 L52.41,174.14 L52.92,174.12 L53.43,174.1 L53.94,174.07 L54.45,174.05 L54.97,174.03 L55.48,174.01 L55.99,173.99 L56.5,173.97 L57.01,173.95 L57.53,173.93 L58.04,173.91 L58.55,173.89 L59.06,173.87 L59.57,173.85 L60.08,173.83 L60.6,173.81 L61.11,173.8 L61.62,173.78 L62.13,173.76 L62.64,173.75 L63.16,173.73 L63.67,173.72 L64.18,173.71 L64.69,173.69 L65.2,173.68 L65.72,173.67 L66.23,173.66 L66.74,173.65 L67.25,173.64 L67.76,173.63 L68.27,173.62 L68.79,173.61 L69.3,173.61 L69.81,173.6 L70.32,173.6 L70.83,173.59 L71.35,173.59 L71.86,173.59 L72.37,173.58 L72.88,173.58 L73.39,173.59 L73.91,173.59 L74.42,173.59 L74.93,173.59 L75.44,173.6 L75.95,173.61 L76.46,173.62 L76.98,173.63 L77.49,173.64 L78,173.65 L78.51,173.66 L79.02,173.68 L79.54,173.7 L80.05,173.72 L80.56,173.74 L81.07,173.77 L81.58,173.8 L82.1,173.83 L82.61,173.86 L83.12,173.89 L83.63,173.93 L84.14,173.97 L84.65,174.02 L85.17,174.07 L85.68,174.12 L86.19,174.18 L86.7,174.24 L87.21,174.31 L87.73,174.38 L88.24,174.46 L88.75,174.54 L89.26,174.64 L89.77,174.73 L90.29,174.84 L90.8,174.96 L91.31,175.08 L91.82,175.22 L92.33,175.37 L92.84,175.53 L93.36,175.71 L93.87,175.9 L94.38,176.11 L94.89,176.34 L95.4,176.59 L95.92,176.87 L96.43,177.18 L96.94,177.51 L97.45,177.88 L97.96,178.28 L98.48,178.74 L98.99,179.24 L99.5,179.8 L100.01,180.42 L100.52,181.13 L101.03,181.92 L101.55,182.82 L102.06,183.83 L102.57,184.99 L103.08,186.31 L103.59,187.83 L104.11,189.56 L104.62,191.56 L105.13,193.86 L105.64,196.51 L106.15,199.54 L106.67,202.98 L107.18,206.84 L107.69,211.08 L108.2,215.62 L108.71,220.23 L109.22,224.62 L109.74,228.37 L110.25,231.02 L110.76,232.18 L111.27,230.49 L111.78,224.38 L112.3,216.22 L112.81,208.16 L113.32,201.24 L113.83,195.68 L114.34,191.33 L114.86,187.95 L115.37,185.33 L115.88,183.27 L116.39,181.63 L116.9,180.32 L117.41,179.25 L117.93,178.38 L118.44,177.65 L118.95,177.05 L119.46,176.54 L119.97,176.1 L120.49,175.73 L121,175.41 L121.51,175.13 L122.02,174.89 L122.53,174.67 L123.05,174.49 L123.56,174.32 L124.07,174.17 L124.58,174.04 L125.09,173.92 L125.6,173.81 L126.12,173.71 L126.63,173.62 L127.14,173.54 L127.65,173.47 L128.16,173.4 L128.68,173.34 L129.19,173.28 L129.7,173.23 L130.21,173.18 L130.72,173.14 L131.24,173.1 L131.75,173.06 L132.26,173.02 L132.77,172.99 L133.28,172.96 L133.79,172.93 L134.31,172.9 L134.82,172.87 L135.33,172.85 L135.84,172.83 L136.35,172.81 L136.87,172.79 L137.38,172.77 L137.89,172.75 L138.4,172.73 L138.91,172.72 L139.43,172.7 L139.94,172.69 L140.45,172.68 L140.96,172.66 L141.47,172.65 L141.98,172.64 L142.5,172.63 L143.01,172.62 L143.52,172.61 L144.03,172.6 L144.54,172.59 L145.06,172.58 L145.57,172.57 L146.08,172.56 L146.59,172.56 L147.1,172.55 L147.62,172.54 L148.13,172.53 L148.64,172.53 L149.15,172.52 L149.66,172.52 L150.17,172.51 L150.69,172.5 L151.2,172.5 L151.71,172.49 L152.22,172.49 L152.73,172.48 L153.25,172.48 L153.76,172.47 L154.27,172.47 L154.78,172.47 L155.29,172.46 L155.81,172.46 L156.32,172.45 L156.83,172.45 L157.34,172.45 L157.85,172.44 L158.37,172.44 L158.88,172.44 L159.39,172.43 L159.9,172.43 L160.41,172.43 L160.92,172.43 L161.44,172.42 L161.95,172.42 L162.46,172.42 L162.97,172.42 L163.48,172.41 L164,172.41 L164.51,172.41 L165.02,172.41 L165.53,172.4 L166.04,172.4 L166.55,172.4 L167.07,172.4 L167.58,172.39 L168.09,172.39 L168.6,172.38 L169.11,172.37 L169.63,172.36 L170.14,172.35 L170.65,172.34 L171.16,172.33 L171.67,172.31 L172.19,172.3 L172.7,172.28 L173.21,172.26 L173.72,172.24 L174.23,172.23 L174.75,172.2 L175.26,172.18 L175.77,172.16 L176.28,172.14 L176.79,172.11 L177.3,172.09 L177.82,172.06 L178.33,172.03 L178.84,172.01 L179.35,171.98 L179.86,171.95 L180.38,171.92 L180.89,171.88 L181.4,171.85 L181.91,171.82 L182.42,171.78 L182.94,171.75 L183.45,171.71 L183.96,171.67 L184.47,171.63 L184.98,171.59 L185.49,171.55 L186.01,171.51 L186.52,171.47 L187.03,171.43 L187.54,171.38 L188.05,171.34 L188.57,171.29 L189.08,171.25 L189.59,171.2 L190.1,171.15 L190.61,171.1 L191.12,171.05 L191.64,171 L192.15,170.95 L192.66,170.89 L193.17,170.84 L193.68,170.79 L194.2,170.73 L194.71,170.68 L195.22,170.62 L195.73,170.56 L196.24,170.5 L196.76,170.44 L197.27,170.38 L197.78,170.32 L198.29,170.26 L198.8,170.2 L199.31,170.13 L199.83,170.07 L200.34,170 L200.85,169.94 L201.36,169.87 L201.87,169.8 L202.39,169.73 L202.9,169.66 L203.41,169.59 L203.92,169.52 L204.43,169.45 L204.95,169.38 L205.46,169.3 L205.97,169.23 L206.48,169.15 L206.99,169.08 L207.5,169 L208.02,168.92 L208.53,168.84 L209.04,168.76 L209.55,168.68 L210.06,168.6 L210.58,168.52 L211.09,168.44 L211.6,168.35" stroke="#1f5ae6"/>
<path d="M47.8,173.66 L48.31,173.62 L48.82,173.58 L49.34,173.54 L49.85,173.51 L50.36,173.47 L50.87,173.44 L51.38,173.4 L51.89,173.37 L52.41,173.33 L52.92,173.3 L53.43,173.26 L53.94,173.23 L54.45,173.19 L54.97,173.16 L55.48,173.13 L55.99,173.09 L56.5,173.06 L57.01,173.03 L57.53,172.99 L58.04,172.96 L58.55,172.93 L59.06,172.9 L59.57,172.87 L60.08,172.83 L60.6,172.8 L61.11,172.77 L61.62,172.74 L62.13,172.71 L62.64,172.68 L63.16,172.65 L63.67,172.62 L64.18,172.59 L64.69,172.57 L65.2,172.54 L65.72,172.51 L66.23,172.48 L66.74,172.45 L67.25,172.43 L67.76,172.4 L68.27,172.37 L68.79,172.35 L69.3,172.32 L69.81,172.3 L70.32,172.27 L70.83,172.24 L71.35,172.22 L71.86,172.2 L72.37,172.17 L72.88,172.15 L73.39,172.12 L73.91,172.1 L74.42,172.08 L74.93,172.05 L75.44,172.03 L75.95,172.01 L76.46,171.99 L76.98,171.97 L77.49,171.95 L78,171.93 L78.51,171.91 L79.02,171.89 L79.54,171.87 L80.05,171.85 L80.56,171.83 L81.07,171.81 L81.58,171.79 L82.1,171.78 L82.61,171.76 L83.12,171.74 L83.63,171.73 L84.14,171.71 L84.65,171.7 L85.17,171.68 L85.68,171.67 L86.19,171.65 L86.7,171.64 L87.21,171.63 L87.73,171.61 L88.24,171.6 L88.75,171.59 L89.26,171.58 L89.77,171.57 L90.29,171.56 L90.8,171.55 L91.31,171.54 L91.82,171.53 L92.33,171.53 L92.84,171.52 L93.36,171.51 L93.87,171.51 L94.38,171.51 L94.89,171.5 L95.4,171.5 L95.92,171.5 L96.43,171.5 L96.94,171.5 L97.45,171.5 L97.96,171.5 L98.48,171.5 L98.99,171.5 L99.5,171.5 L100.01,171.5 L100.52,171.5 L101.03,171.5 L101.55,171.5 L102.06,171.5 L102.57,171.5 L103.08,171.5 L103.59,171.5 L104.11,171.49 L104.62,171.49 L105.13,171.49 L105.64,171.49 L106.15,171.49 L106.67,171.49 L107.18,171.49 L107.69,171.49 L108.2,171.49 L108.71,171.49 L109.22,171.49 L109.74,171.49 L110.25,171.49 L110.76,171.49 L111.27,171.48 L111.78,171.48 L112.3,171.48 L112.81,171.48 L113.32,171.48 L113.83,171.48 L114.34,171.48 L114.86,171.48 L115.37,171.48 L115.88,171.48 L116.39,171.48 L116.9,171.47 L117.41,171.47 L117.93,171.47 L118.44,171.47 L118.95,171.47 L119.46,171.47 L119.97,171.47 L120.49,171.47 L121,171.46 L121.51,171.46 L122.02,171.46 L122.53,171.46 L123.05,171.46 L123.56,171.46 L124.07,171.45 L124.58,171.45 L125.09,171.45 L125.6,171.45 L126.12,171.45 L126.63,171.45 L127.14,171.44 L127.65,171.44 L128.16,171.44 L128.68,171.44 L129.19,171.43 L129.7,171.43 L130.21,171.43 L130.72,171.43 L131.24,171.42 L131.75,171.42 L132.26,171.42 L132.77,171.42 L133.28,171.41 L133.79,171.41 L134.31,171.41 L134.82,171.4 L135.33,171.4 L135.84,171.39 L136.35,171.39 L136.87,171.39 L137.38,171.38 L137.89,171.38 L138.4,171.37 L138.91,171.37 L139.43,171.36 L139.94,171.36 L140.45,171.35 L140.96,171.34 L141.47,171.34 L141.98,171.33 L142.5,171.32 L143.01,171.31 L143.52,171.31 L144.03,171.3 L144.54,171.29 L145.06,171.28 L145.57,171.27 L146.08,171.26 L146.59,171.25 L147.1,171.24 L147.62,171.22 L148.13,171.21 L148.64,171.19 L149.15,171.18 L149.66,171.16 L150.17,171.14 L150.69,171.12 L151.2,171.1 L151.71,171.08 L152.22,171.06 L152.73,171.03 L153.25,171 L153.76,170.97 L154.27,170.94 L154.78,170.9 L155.29,170.86 L155.81,170.82 L156.32,170.77 L156.83,170.72 L157.34,170.66 L157.85,170.59 L158.37,170.52 L158.88,170.44 L159.39,170.34 L159.9,170.23 L160.41,170.1 L160.92,169.95 L161.44,169.75 L161.95,169.5 L162.46,169.15 L162.97,168.69 L163.48,168.04 L164,167.15 L164.51,165.91 L165.02,164.25 L165.53,162.04 L166.04,159.21 L166.55,155.69 L167.07,151.45 L167.58,146.55 L168.09,141.13 L168.6,135.42 L169.11,129.77 L169.63,124.62 L170.14,120.49 L170.65,117.91 L171.16,117.27 L171.67,118.5 L172.19,121.37 L172.7,125.49 L173.21,130.41 L173.72,135.71 L174.23,141.03 L174.75,146.08 L175.26,150.68 L175.77,154.7 L176.28,158.09 L176.79,160.87 L177.3,163.06 L177.82,164.76 L178.33,166.03 L178.84,166.97 L179.35,167.65 L179.86,168.13 L180.38,168.48 L180.89,168.73 L181.4,168.91 L181.91,169.04 L182.42,169.14 L182.94,169.21 L183.45,169.26 L183.96,169.3 L184.47,169.33 L184.98,169.35 L185.49,169.36 L186.01,169.37 L186.52,169.36 L187.03,169.36 L187.54,169.35 L188.05,169.33 L188.57,169.31 L189.08,169.29 L189.59,169.26 L190.1,169.23 L190.61,169.2 L191.12,169.17 L191.64,169.13 L192.15,169.09 L192.66,169.05 L193.17,169.01 L193.68,168.96 L194.2,168.92 L194.71,168.87 L195.22,168.82 L195.73,168.77 L196.24,168.72 L196.76,168.66 L197.27,168.61 L197.78,168.55 L198.29,168.5 L198.8,168.44 L199.31,168.38 L199.83,168.32 L200.34,168.26 L200.85,168.2 L201.36,168.13 L201.87,168.07 L202.39,168.01 L202.9,167.94 L203.41,167.87 L203.92,167.81 L204.43,167.74 L204.95,167.67 L205.46,167.6 L205.97,167.53 L206.48,167.46 L206.99,167.39 L207.5,167.32 L208.02,167.25 L208.53,167.17 L209.04,167.1 L209.55,167.02 L210.06,166.95 L210.58,166.87 L211.09,166.8 L211.6,166.72" stroke="#1e9e4e"/>
<path d="M47.8,174.8 L48.31,174.76 L48.82,174.73 L49.34,174.7 L49.85,174.67 L50.36,174.64 L50.87,174.61 L51.38,174.58 L51.89,174.55 L52.41,174.52 L52.92,174.49 L53.43,174.47 L53.94,174.44 L54.45,174.41 L54.97,174.39 L55.48,174.36 L55.99,174.34 L56.5,174.31 L57.01,174.29 L57.53,174.26 L58.04,174.24 L58.55,174.22 L59.06,174.19 L59.57,174.17 L60.08,174.15 L60.6,174.13 L61.11,174.11 L61.62,174.09 L62.13,174.08 L62.64,174.06 L63.16,174.04 L63.67,174.02 L64.18,174.01 L64.69,173.99 L65.2,173.98 L65.72,173.97 L66.23,173.95 L66.74,173.94 L67.25,173.93 L67.76,173.92 L68.27,173.91 L68.79,173.91 L69.3,173.9 L69.81,173.89 L70.32,173.89 L70.83,173.89 L71.35,173.89 L71.86,173.88 L72.37,173.88 L72.88,173.89 L73.39,173.89 L73.91,173.89 L74.42,173.9 L74.93,173.91 L75.44,173.92 L75.95,173.93 L76.46,173.94 L76.98,173.96 L77.49,173.98 L78,174 L78.51,174.02 L79.02,174.04 L79.54,174.07 L80.05,174.1 L80.56,174.13 L81.07,174.17 L81.58,174.21 L82.1,174.25 L82.61,174.3 L83.12,174.35 L83.63,174.4 L84.14,174.46 L84.65,174.53 L85.17,174.6 L85.68,174.67 L86.19,174.75 L86.7,174.84 L87.21,174.94 L87.73,175.04 L88.24,175.15 L88.75,175.28 L89.26,175.41 L89.77,175.55 L90.29,175.71 L90.8,175.88 L91.31,176.06 L91.82,176.26 L92.33,176.48 L92.84,176.72 L93.36,176.98 L93.87,177.26 L94.38,177.57 L94.89,177.92 L95.4,178.3 L95.92,178.72 L96.43,179.18 L96.94,179.69 L97.45,180.26 L97.96,180.89 L98.48,181.59 L98.99,182.38 L99.5,183.26 L100.01,184.26 L100.52,185.38 L101.03,186.64 L101.55,188.08 L102.06,189.71 L102.57,191.57 L103.08,193.67 L103.59,196.07 L104.11,198.77 L104.62,201.81 L105.13,205.18 L105.64,208.87 L106.15,212.82 L106.67,216.88 L107.18,220.87 L107.69,224.5 L108.2,227.45 L108.71,229.38 L109.22,230.05 L109.74,227.49 L110.25,221 L110.76,213.02 L111.27,205.43 L111.78,199.02 L112.3,193.91 L112.81,189.92 L113.32,186.83 L113.83,184.42 L114.34,182.52 L114.86,181.02 L115.37,179.8 L115.88,178.82 L116.39,178.01 L116.9,177.34 L117.41,176.77 L117.93,176.3 L118.44,175.89 L118.95,175.54 L119.46,175.24 L119.97,174.98 L120.49,174.75 L121,174.55 L121.51,174.37 L122.02,174.21 L122.53,174.07 L123.05,173.95 L123.56,173.84 L124.07,173.73 L124.58,173.64 L125.09,173.56 L125.6,173.48 L126.12,173.41 L126.63,173.35 L127.14,173.29 L127.65,173.24 L128.16,173.19 L128.68,173.14 L129.19,173.1 L129.7,173.06 L130.21,173.02 L130.72,172.99 L131.24,172.96 L131.75,172.93 L132.26,172.9 L132.77,172.87 L133.28,172.85 L133.79,172.83 L134.31,172.8 L134.82,172.78 L135.33,172.77 L135.84,172.75 L136.35,172.73 L136.87,172.71 L137.38,172.7 L137.89,172.69 L138.4,172.67 L138.91,172.66 L139.43,172.65 L139.94,172.63 L140.45,172.62 L140.96,172.61 L141.47,172.6 L141.98,172.59 L142.5,172.58 L143.01,172.58 L143.52,172.57 L144.03,172.56 L144.54,172.55 L145.06,172.54 L145.57,172.54 L146.08,172.53 L146.59,172.52 L147.1,172.52 L147.62,172.51 L148.13,172.51 L148.64,172.5 L149.15,172.5 L149.66,172.49 L150.17,172.49 L150.69,172.48 L151.2,172.48 L151.71,172.47 L152.22,172.47 L152.73,172.46 L153.25,172.46 L153.76,172.46 L154.27,172.45 L154.78,172.45 L155.29,172.44 L155.81,172.44 L156.32,172.44 L156.83,172.43 L157.34,172.43 L157.85,172.43 L158.37,172.43 L158.88,172.42 L159.39,172.42 L159.9,172.42 L160.41,172.42 L160.92,172.41 L161.44,172.41 L161.95,172.41 L162.46,172.41 L162.97,172.4 L163.48,172.4 L164,172.4 L164.51,172.4 L165.02,172.4 L165.53,172.39 L166.04,172.39 L166.55,172.39 L167.07,172.39 L167.58,172.38 L168.09,172.38 L168.6,172.37 L169.11,172.36 L169.63,172.35 L170.14,172.34 L170.65,172.32 L171.16,172.31 L171.67,172.29 L172.19,172.27 L172.7,172.25 L173.21,172.23 L173.72,172.21 L174.23,172.19 L174.75,172.17 L175.26,172.14 L175.77,172.12 L176.28,172.09 L176.79,172.06 L177.3,172.03 L177.82,172 L178.33,171.97 L178.84,171.93 L179.35,171.9 L179.86,171.86 L180.38,171.83 L180.89,171.79 L181.4,171.75 L181.91,171.71 L182.42,171.67 L182.94,171.63 L183.45,171.59 L183.96,171.54 L184.47,171.5 L184.98,171.45 L185.49,171.4 L186.01,171.35 L186.52,171.3 L187.03,171.25 L187.54,171.2 L188.05,171.15 L188.57,171.1 L189.08,171.04 L189.59,170.98 L190.1,170.93 L190.61,170.87 L191.12,170.81 L191.64,170.75 L192.15,170.69 L192.66,170.63 L193.17,170.56 L193.68,170.5 L194.2,170.44 L194.71,170.37 L195.22,170.3 L195.73,170.23 L196.24,170.16 L196.76,170.09 L197.27,170.02 L197.78,169.95 L198.29,169.88 L198.8,169.8 L199.31,169.73 L199.83,169.65 L200.34,169.57 L200.85,169.5 L201.36,169.42 L201.87,169.34 L202.39,169.26 L202.9,169.17 L203.41,169.09 L203.92,169.01 L204.43,168.92 L204.95,168.84 L205.46,168.75 L205.97,168.66 L206.48,168.57 L206.99,168.48 L207.5,168.39 L208.02,168.3 L208.53,168.21 L209.04,168.11 L209.55,168.02 L210.06,167.92 L210.58,167.83 L211.09,167.73 L211.6,167.63" stroke="#1e9e4e"/>
<path d="M47.8,172.59 L48.31,172.57 L48.82,172.55 L49.34,172.53 L49.85,172.51 L50.36,172.5 L50.87,172.48 L51.38,172.46 L51.89,172.44 L52.41,172.43 L52.92,172.41 L53.43,172.39 L53.94,172.37 L54.45,172.36 L54.97,172.34 L55.48,172.32 L55.99,172.31 L56.5,172.29 L57.01,172.27 L57.53,172.26 L58.04,172.24 L58.55,172.22 L59.06,172.21 L59.57,172.19 L60.08,172.18 L60.6,172.16 L61.11,172.15 L61.62,172.13 L62.13,172.12 L62.64,172.1 L63.16,172.09 L63.67,172.07 L64.18,172.06 L64.69,172.04 L65.2,172.03 L65.72,172.01 L66.23,172 L66.74,171.99 L67.25,171.97 L67.76,171.96 L68.27,171.94 L68.79,171.93 L69.3,171.92 L69.81,171.91 L70.32,171.89 L70.83,171.88 L71.35,171.87 L71.86,171.85 L72.37,171.84 L72.88,171.83 L73.39,171.82 L73.91,171.81 L74.42,171.8 L74.93,171.78 L75.44,171.77 L75.95,171.76 L76.46,171.75 L76.98,171.74 L77.49,171.73 L78,171.72 L78.51,171.71 L79.02,171.7 L79.54,171.69 L80.05,171.68 L80.56,171.67 L81.07,171.66 L81.58,171.65 L82.1,171.64 L82.61,171.63 L83.12,171.63 L83.63,171.62 L84.14,171.61 L84.65,171.6 L85.17,171.59 L85.68,171.59 L86.19,171.58 L86.7,171.57 L87.21,171.57 L87.73,171.56 L88.24,171.55 L88.75,171.55 L89.26,171.54 L89.77,171.54 L90.29,171.53 L90.8,171.53 L91.31,171.52 L91.82,171.52 L92.33,171.51 L92.84,171.51 L93.36,171.51 L93.87,171.51 L94.38,171.5 L94.89,171.5 L95.4,171.5 L95.92,171.5 L96.43,171.5 L96.94,171.5 L97.45,171.5 L97.96,171.5 L98.48,171.5 L98.99,171.5 L99.5,171.5 L100.01,171.5 L100.52,171.5 L101.03,171.5 L101.55,171.5 L102.06,171.5 L102.57,171.5 L103.08,171.5 L103.59,171.49 L104.11,171.49 L104.62,171.49 L105.13,171.49 L105.64,171.49 L106.15,171.49 L106.67,171.49 L107.18,171.49 L107.69,171.49 L108.2,171.49 L108.71,171.49 L109.22,171.49 L109.74,171.49 L110.25,171.49 L110.76,171.49 L111.27,171.48 L111.78,171.48 L112.3,171.48 L112.81,171.48 L113.32,171.48 L113.83,171.48 L114.34,171.48 L114.86,171.48 L115.37,171.48 L115.88,171.48 L116.39,171.48 L116.9,171.47 L117.41,171.47 L117.93,171.47 L118.44,171.47 L118.95,171.47 L119.46,171.47 L119.97,171.47 L120.49,171.47 L121,171.46 L121.51,171.46 L122.02,171.46 L122.53,171.46 L123.05,171.46 L123.56,171.46 L124.07,171.46 L124.58,171.45 L125.09,171.45 L125.6,171.45 L126.12,171.45 L126.63,171.45 L127.14,171.45 L127.65,171.44 L128.16,171.44 L128.68,171.44 L129.19,171.44 L129.7,171.43 L130.21,171.43 L130.72,171.43 L131.24,171.43 L131.75,171.42 L132.26,171.42 L132.77,171.42 L133.28,171.42 L133.79,171.41 L134.31,171.41 L134.82,171.41 L135.33,171.4 L135.84,171.4 L136.35,171.4 L136.87,171.39 L137.38,171.39 L137.89,171.38 L138.4,171.38 L138.91,171.37 L139.43,171.37 L139.94,171.37 L140.45,171.36 L140.96,171.35 L141.47,171.35 L141.98,171.34 L142.5,171.34 L143.01,171.33 L143.52,171.32 L144.03,171.32 L144.54,171.31 L145.06,171.3 L145.57,171.29 L146.08,171.28 L146.59,171.27 L147.1,171.26 L147.62,171.25 L148.13,171.24 L148.64,171.23 L149.15,171.21 L149.66,171.2 L150.17,171.19 L150.69,171.17 L151.2,171.15 L151.71,171.14 L152.22,171.12 L152.73,171.1 L153.25,171.07 L153.76,171.05 L154.27,171.03 L154.78,171 L155.29,170.97 L155.81,170.94 L156.32,170.9 L156.83,170.86 L157.34,170.82 L157.85,170.77 L158.37,170.72 L158.88,170.67 L159.39,170.6 L159.9,170.53 L160.41,170.46 L160.92,170.37 L161.44,170.28 L161.95,170.17 L162.46,170.04 L162.97,169.89 L163.48,169.71 L164,169.49 L164.51,169.2 L165.02,168.82 L165.53,168.29 L166.04,167.53 L166.55,166.47 L167.07,164.96 L167.58,162.87 L168.09,160.04 L168.6,156.33 L169.11,151.66 L169.63,145.99 L170.14,139.41 L170.65,132.15 L171.16,124.61 L171.67,117.33 L172.19,111.03 L172.7,106.51 L173.21,104.48 L173.72,105.19 L174.23,108.3 L174.75,113.33 L175.26,119.61 L175.77,126.52 L176.28,133.49 L176.79,140.12 L177.3,146.1 L177.82,151.27 L178.33,155.56 L178.84,159.01 L179.35,161.67 L179.86,163.68 L180.38,165.14 L180.89,166.19 L181.4,166.93 L181.91,167.45 L182.42,167.81 L182.94,168.07 L183.45,168.25 L183.96,168.38 L184.47,168.48 L184.98,168.55 L185.49,168.6 L186.01,168.64 L186.52,168.67 L187.03,168.68 L187.54,168.69 L188.05,168.69 L188.57,168.68 L189.08,168.66 L189.59,168.64 L190.1,168.62 L190.61,168.59 L191.12,168.55 L191.64,168.51 L192.15,168.47 L192.66,168.43 L193.17,168.38 L193.68,168.33 L194.2,168.28 L194.71,168.22 L195.22,168.16 L195.73,168.1 L196.24,168.04 L196.76,167.98 L197.27,167.91 L197.78,167.85 L198.29,167.78 L198.8,167.71 L199.31,167.64 L199.83,167.57 L200.34,167.49 L200.85,167.42 L201.36,167.34 L201.87,167.26 L202.39,167.18 L202.9,167.1 L203.41,167.02 L203.92,166.94 L204.43,166.86 L204.95,166.78 L205.46,166.69 L205.97,166.61 L206.48,166.52 L206.99,166.43 L207.5,166.34 L208.02,166.26 L208.53,166.17 L209.04,166.08 L209.55,165.98 L210.06,165.89 L210.58,165.8 L211.09,165.71 L211.6,165.61" stroke="#a060e6"/>
<path d="M47.8,173.74 L48.31,173.73 L48.82,173.72 L49.34,173.71 L49.85,173.69 L50.36,173.68 L50.87,173.67 L51.38,173.66 L51.89,173.65 L52.41,173.64 L52.92,173.63 L53.43,173.62 L53.94,173.61 L54.45,173.6 L54.97,173.59 L55.48,173.59 L55.99,173.58 L56.5,173.57 L57.01,173.56 L57.53,173.56 L58.04,173.55 L58.55,173.55 L59.06,173.54 L59.57,173.54 L60.08,173.53 L60.6,173.53 L61.11,173.53 L61.62,173.52 L62.13,173.52 L62.64,173.52 L63.16,173.52 L63.67,173.52 L64.18,173.52 L64.69,173.52 L65.2,173.52 L65.72,173.53 L66.23,173.53 L66.74,173.53 L67.25,173.54 L67.76,173.55 L68.27,173.55 L68.79,173.56 L69.3,173.57 L69.81,173.58 L70.32,173.59 L70.83,173.6 L71.35,173.61 L71.86,173.63 L72.37,173.64 L72.88,173.66 L73.39,173.68 L73.91,173.7 L74.42,173.72 L74.93,173.74 L75.44,173.76 L75.95,173.79 L76.46,173.82 L76.98,173.85 L77.49,173.88 L78,173.92 L78.51,173.95 L79.02,173.99 L79.54,174.03 L80.05,174.08 L80.56,174.13 L81.07,174.18 L81.58,174.23 L82.1,174.29 L82.61,174.35 L83.12,174.42 L83.63,174.49 L84.14,174.57 L84.65,174.65 L85.17,174.74 L85.68,174.83 L86.19,174.93 L86.7,175.04 L87.21,175.16 L87.73,175.28 L88.24,175.42 L88.75,175.56 L89.26,175.72 L89.77,175.88 L90.29,176.07 L90.8,176.26 L91.31,176.48 L91.82,176.71 L92.33,176.96 L92.84,177.23 L93.36,177.53 L93.87,177.86 L94.38,178.22 L94.89,178.61 L95.4,179.04 L95.92,179.52 L96.43,180.05 L96.94,180.63 L97.45,181.28 L97.96,182 L98.48,182.8 L98.99,183.7 L99.5,184.71 L100.01,185.84 L100.52,187.12 L101.03,188.56 L101.55,190.18 L102.06,192.02 L102.57,194.1 L103.08,196.45 L103.59,199.08 L104.11,202.02 L104.62,205.27 L105.13,208.8 L105.64,212.54 L106.15,216.39 L106.67,220.17 L107.18,223.63 L107.69,226.48 L108.2,228.45 L108.71,229.3 L109.22,227.68 L109.74,221.87 L110.25,214.1 L110.76,206.43 L111.27,199.84 L111.78,194.55 L112.3,190.41 L112.81,187.2 L113.32,184.7 L113.83,182.74 L114.34,181.18 L114.86,179.93 L115.37,178.92 L115.88,178.08 L116.39,177.4 L116.9,176.82 L117.41,176.33 L117.93,175.92 L118.44,175.57 L118.95,175.26 L119.46,175 L119.97,174.76 L120.49,174.56 L121,174.38 L121.51,174.22 L122.02,174.08 L122.53,173.95 L123.05,173.84 L123.56,173.73 L124.07,173.64 L124.58,173.56 L125.09,173.48 L125.6,173.41 L126.12,173.35 L126.63,173.29 L127.14,173.23 L127.65,173.18 L128.16,173.14 L128.68,173.1 L129.19,173.06 L129.7,173.02 L130.21,172.99 L130.72,172.95 L131.24,172.92 L131.75,172.9 L132.26,172.87 L132.77,172.85 L133.28,172.82 L133.79,172.8 L134.31,172.78 L134.82,172.76 L135.33,172.75 L135.84,172.73 L136.35,172.71 L136.87,172.7 L137.38,172.68 L137.89,172.67 L138.4,172.66 L138.91,172.64 L139.43,172.63 L139.94,172.62 L140.45,172.61 L140.96,172.6 L141.47,172.59 L141.98,172.58 L142.5,172.57 L143.01,172.57 L143.52,172.56 L144.03,172.55 L144.54,172.54 L145.06,172.54 L145.57,172.53 L146.08,172.52 L146.59,172.52 L147.1,172.51 L147.62,172.5 L148.13,172.5 L148.64,172.49 L149.15,172.49 L149.66,172.48 L150.17,172.48 L150.69,172.47 L151.2,172.47 L151.71,172.47 L152.22,172.46 L152.73,172.46 L153.25,172.45 L153.76,172.45 L154.27,172.45 L154.78,172.44 L155.29,172.44 L155.81,172.44 L156.32,172.43 L156.83,172.43 L157.34,172.43 L157.85,172.42 L158.37,172.42 L158.88,172.42 L159.39,172.42 L159.9,172.41 L160.41,172.41 L160.92,172.41 L161.44,172.41 L161.95,172.41 L162.46,172.4 L162.97,172.4 L163.48,172.4 L164,172.4 L164.51,172.4 L165.02,172.39 L165.53,172.39 L166.04,172.39 L166.55,172.39 L167.07,172.38 L167.58,172.38 L168.09,172.37 L168.6,172.36 L169.11,172.35 L169.63,172.34 L170.14,172.32 L170.65,172.31 L171.16,172.29 L171.67,172.27 L172.19,172.25 L172.7,172.23 L173.21,172.2 L173.72,172.18 L174.23,172.15 L174.75,172.12 L175.26,172.09 L175.77,172.06 L176.28,172.02 L176.79,171.99 L177.3,171.95 L177.82,171.91 L178.33,171.88 L178.84,171.83 L179.35,171.79 L179.86,171.75 L180.38,171.71 L180.89,171.66 L181.4,171.61 L181.91,171.56 L182.42,171.51 L182.94,171.46 L183.45,171.41 L183.96,171.35 L184.47,171.3 L184.98,171.24 L185.49,171.18 L186.01,171.12 L186.52,171.06 L187.03,171 L187.54,170.94 L188.05,170.87 L188.57,170.81 L189.08,170.74 L189.59,170.67 L190.1,170.6 L190.61,170.53 L191.12,170.46 L191.64,170.38 L192.15,170.31 L192.66,170.23 L193.17,170.15 L193.68,170.08 L194.2,170 L194.71,169.91 L195.22,169.83 L195.73,169.75 L196.24,169.66 L196.76,169.58 L197.27,169.49 L197.78,169.4 L198.29,169.31 L198.8,169.22 L199.31,169.13 L199.83,169.03 L200.34,168.94 L200.85,168.84 L201.36,168.74 L201.87,168.65 L202.39,168.55 L202.9,168.44 L203.41,168.34 L203.92,168.24 L204.43,168.13 L204.95,168.03 L205.46,167.92 L205.97,167.81 L206.48,167.7 L206.99,167.59 L207.5,167.48 L208.02,167.37 L208.53,167.26 L209.04,167.14 L209.55,167.02 L210.06,166.91 L210.58,166.79 L211.09,166.67 L211.6,166.55" stroke="#a060e6"/>
<path d="M47.8,175.43 L48.31,175.37 L48.82,175.3 L49.34,175.23 L49.85,175.16 L50.36,175.1 L50.87,175.03 L51.38,174.97 L51.89,174.9 L52.41,174.84 L52.92,174.77 L53.43,174.71 L53.94,174.65 L54.45,174.59 L54.97,174.52 L55.48,174.46 L55.99,174.4 L56.5,174.34 L57.01,174.28 L57.53,174.22 L58.04,174.16 L58.55,174.1 L59.06,174.05 L59.57,173.99 L60.08,173.93 L60.6,173.87 L61.11,173.82 L61.62,173.76 L62.13,173.71 L62.64,173.65 L63.16,173.6 L63.67,173.55 L64.18,173.49 L64.69,173.44 L65.2,173.39 L65.72,173.34 L66.23,173.29 L66.74,173.24 L67.25,173.19 L67.76,173.14 L68.27,173.09 L68.79,173.05 L69.3,173 L69.81,172.95 L70.32,172.91 L70.83,172.87 L71.35,172.82 L71.86,172.78 L72.37,172.74 L72.88,172.7 L73.39,172.66 L73.91,172.62 L74.42,172.59 L74.93,172.55 L75.44,172.52 L75.95,172.49 L76.46,172.45 L76.98,172.43 L77.49,172.4 L78,172.37 L78.51,172.35 L79.02,172.32 L79.54,172.3 L80.05,172.28 L80.56,172.26 L81.07,172.25 L81.58,172.23 L82.1,172.22 L82.61,172.21 L83.12,172.2 L83.63,172.19 L84.14,172.18 L84.65,172.18 L85.17,172.17 L85.68,172.17 L86.19,172.17 L86.7,172.16 L87.21,172.16 L87.73,172.16 L88.24,172.16 L88.75,172.17 L89.26,172.17 L89.77,172.17 L90.29,172.17 L90.8,172.17 L91.31,172.17 L91.82,172.17 L92.33,172.17 L92.84,172.16 L93.36,172.16 L93.87,172.16 L94.38,172.16 L94.89,172.15 L95.4,172.15 L95.92,172.14 L96.43,172.11 L96.94,172.08 L97.45,172.05 L97.96,172.01 L98.48,171.96 L98.99,171.92 L99.5,171.87 L100.01,171.83 L100.52,171.78 L101.03,171.74 L101.55,171.7 L102.06,171.67 L102.57,171.63 L103.08,171.61 L103.59,171.58 L104.11,171.57 L104.62,171.55 L105.13,171.54 L105.64,171.53 L106.15,171.52 L106.67,171.51 L107.18,171.51 L107.69,171.5 L108.2,171.5 L108.71,171.5 L109.22,171.49 L109.74,171.49 L110.25,171.49 L110.76,171.49 L111.27,171.49 L111.78,171.49 L112.3,171.49 L112.81,171.49 L113.32,171.48 L113.83,171.48 L114.34,171.48 L114.86,171.48 L115.37,171.48 L115.88,171.48 L116.39,171.48 L116.9,171.48 L117.41,171.48 L117.93,171.48 L118.44,171.48 L118.95,171.47 L119.46,171.47 L119.97,171.47 L120.49,171.47 L121,171.47 L121.51,171.47 L122.02,171.47 L122.53,171.47 L123.05,171.46 L123.56,171.46 L124.07,171.46 L124.58,171.46 L125.09,171.46 L125.6,171.46 L126.12,171.45 L126.63,171.45 L127.14,171.45 L127.65,171.45 L128.16,171.45 L128.68,171.45 L129.19,171.44 L129.7,171.44 L130.21,171.44 L130.72,171.44 L131.24,171.43 L131.75,171.43 L132.26,171.43 L132.77,171.43 L133.28,171.42 L133.79,171.42 L134.31,171.42 L134.82,171.42 L135.33,171.41 L135.84,171.41 L136.35,171.41 L136.87,171.4 L137.38,171.4 L137.89,171.4 L138.4,171.39 L138.91,171.39 L139.43,171.38 L139.94,171.38 L140.45,171.37 L140.96,171.37 L141.47,171.36 L141.98,171.36 L142.5,171.35 L143.01,171.35 L143.52,171.34 L144.03,171.33 L144.54,171.33 L145.06,171.32 L145.57,171.31 L146.08,171.3 L146.59,171.29 L147.1,171.28 L147.62,171.27 L148.13,171.26 L148.64,171.25 L149.15,171.24 L149.66,171.23 L150.17,171.22 L150.69,171.2 L151.2,171.19 L151.71,171.17 L152.22,171.15 L152.73,171.14 L153.25,171.12 L153.76,171.1 L154.27,171.07 L154.78,171.05 L155.29,171.02 L155.81,170.99 L156.32,170.96 L156.83,170.93 L157.34,170.89 L157.85,170.85 L158.37,170.8 L158.88,170.76 L159.39,170.7 L159.9,170.64 L160.41,170.58 L160.92,170.5 L161.44,170.42 L161.95,170.32 L162.46,170.22 L162.97,170.09 L163.48,169.95 L164,169.77 L164.51,169.55 L165.02,169.26 L165.53,168.88 L166.04,168.34 L166.55,167.58 L167.07,166.49 L167.58,164.95 L168.09,162.83 L168.6,159.98 L169.11,156.28 L169.63,151.66 L170.14,146.09 L170.65,139.71 L171.16,132.73 L171.67,125.58 L172.19,118.8 L172.7,113.09 L173.21,109.22 L173.72,107.81 L174.23,108.94 L174.75,112.27 L175.26,117.28 L175.77,123.37 L176.28,129.93 L176.79,136.46 L177.3,142.59 L177.82,148.08 L178.33,152.78 L178.84,156.65 L179.35,159.72 L179.86,162.08 L180.38,163.83 L180.89,165.1 L181.4,165.99 L181.91,166.61 L182.42,167.04 L182.94,167.32 L183.45,167.51 L183.96,167.64 L184.47,167.72 L184.98,167.78 L185.49,167.8 L186.01,167.81 L186.52,167.81 L187.03,167.8 L187.54,167.77 L188.05,167.74 L188.57,167.69 L189.08,167.65 L189.59,167.59 L190.1,167.53 L190.61,167.46 L191.12,167.39 L191.64,167.32 L192.15,167.24 L192.66,167.16 L193.17,167.08 L193.68,166.99 L194.2,166.9 L194.71,166.8 L195.22,166.71 L195.73,166.61 L196.24,166.5 L196.76,166.4 L197.27,166.3 L197.78,166.19 L198.29,166.08 L198.8,165.97 L199.31,165.85 L199.83,165.74 L200.34,165.62 L200.85,165.51 L201.36,165.39 L201.87,165.26 L202.39,165.14 L202.9,165.02 L203.41,164.89 L203.92,164.77 L204.43,164.64 L204.95,164.51 L205.46,164.38 L205.97,164.25 L206.48,164.12 L206.99,163.98 L207.5,163.85 L208.02,163.71 L208.53,163.57 L209.04,163.44 L209.55,163.3 L210.06,163.16 L210.58,163.01 L211.09,162.87 L211.6,162.73" stroke="#e39e21"/>
<path d="M47.8,176.51 L48.31,176.45 L48.82,176.38 L49.34,176.32 L49.85,176.26 L50.36,176.2 L50.87,176.13 L51.38,176.07 L51.89,176.01 L52.41,175.95 L52.92,175.89 L53.43,175.83 L53.94,175.77 L54.45,175.72 L54.97,175.66 L55.48,175.6 L55.99,175.55 L56.5,175.49 L57.01,175.44 L57.53,175.38 L58.04,175.33 L58.55,175.28 L59.06,175.23 L59.57,175.18 L60.08,175.13 L60.6,175.08 L61.11,175.03 L61.62,174.98 L62.13,174.93 L62.64,174.89 L63.16,174.84 L63.67,174.8 L64.18,174.75 L64.69,174.71 L65.2,174.67 L65.72,174.63 L66.23,174.59 L66.74,174.55 L67.25,174.51 L67.76,174.48 L68.27,174.44 L68.79,174.41 L69.3,174.38 L69.81,174.35 L70.32,174.32 L70.83,174.29 L71.35,174.26 L71.86,174.24 L72.37,174.21 L72.88,174.19 L73.39,174.17 L73.91,174.16 L74.42,174.14 L74.93,174.13 L75.44,174.12 L75.95,174.11 L76.46,174.1 L76.98,174.1 L77.49,174.1 L78,174.1 L78.51,174.11 L79.02,174.12 L79.54,174.13 L80.05,174.14 L80.56,174.16 L81.07,174.18 L81.58,174.21 L82.1,174.24 L82.61,174.27 L83.12,174.3 L83.63,174.34 L84.14,174.38 L84.65,174.43 L85.17,174.48 L85.68,174.54 L86.19,174.6 L86.7,174.66 L87.21,174.73 L87.73,174.8 L88.24,174.88 L88.75,174.96 L89.26,175.05 L89.77,175.15 L90.29,175.25 L90.8,175.36 L91.31,175.47 L91.82,175.6 L92.33,175.73 L92.84,175.88 L93.36,176.03 L93.87,176.2 L94.38,176.38 L94.89,176.58 L95.4,176.8 L95.92,177.04 L96.43,177.29 L96.94,177.57 L97.45,177.88 L97.96,178.22 L98.48,178.59 L98.99,179.01 L99.5,179.48 L100.01,179.99 L100.52,180.58 L101.03,181.24 L101.55,181.98 L102.06,182.83 L102.57,183.8 L103.08,184.91 L103.59,186.19 L104.11,187.66 L104.62,189.37 L105.13,191.34 L105.64,193.64 L106.15,196.3 L106.67,199.38 L107.18,202.92 L107.69,206.92 L108.2,211.36 L108.71,216.14 L109.22,221.03 L109.74,225.66 L110.25,229.55 L110.76,232.17 L111.27,233.09 L111.78,230.2 L112.3,222.98 L112.81,214.27 L113.32,206.14 L113.83,199.39 L114.34,194.08 L114.86,189.99 L115.37,186.83 L115.88,184.39 L116.39,182.48 L116.9,180.96 L117.41,179.75 L117.93,178.76 L118.44,177.95 L118.95,177.28 L119.46,176.72 L119.97,176.25 L120.49,175.85 L121,175.5 L121.51,175.2 L122.02,174.94 L122.53,174.71 L123.05,174.52 L123.56,174.34 L124.07,174.18 L124.58,174.04 L125.09,173.92 L125.6,173.81 L126.12,173.71 L126.63,173.62 L127.14,173.53 L127.65,173.46 L128.16,173.39 L128.68,173.33 L129.19,173.27 L129.7,173.22 L130.21,173.17 L130.72,173.12 L131.24,173.08 L131.75,173.04 L132.26,173.01 L132.77,172.97 L133.28,172.94 L133.79,172.91 L134.31,172.89 L134.82,172.86 L135.33,172.84 L135.84,172.82 L136.35,172.79 L136.87,172.77 L137.38,172.76 L137.89,172.74 L138.4,172.72 L138.91,172.71 L139.43,172.69 L139.94,172.68 L140.45,172.66 L140.96,172.65 L141.47,172.64 L141.98,172.63 L142.5,172.62 L143.01,172.61 L143.52,172.6 L144.03,172.59 L144.54,172.58 L145.06,172.57 L145.57,172.56 L146.08,172.55 L146.59,172.55 L147.1,172.54 L147.62,172.53 L148.13,172.53 L148.64,172.52 L149.15,172.51 L149.66,172.51 L150.17,172.5 L150.69,172.5 L151.2,172.49 L151.71,172.49 L152.22,172.48 L152.73,172.48 L153.25,172.47 L153.76,172.47 L154.27,172.46 L154.78,172.46 L155.29,172.46 L155.81,172.45 L156.32,172.45 L156.83,172.44 L157.34,172.44 L157.85,172.44 L158.37,172.43 L158.88,172.43 L159.39,172.43 L159.9,172.43 L160.41,172.42 L160.92,172.42 L161.44,172.42 L161.95,172.42 L162.46,172.41 L162.97,172.41 L163.48,172.41 L164,172.41 L164.51,172.4 L165.02,172.4 L165.53,172.4 L166.04,172.4 L166.55,172.4 L167.07,172.39 L167.58,172.38 L168.09,172.37 L168.6,172.36 L169.11,172.34 L169.63,172.32 L170.14,172.3 L170.65,172.28 L171.16,172.25 L171.67,172.22 L172.19,172.19 L172.7,172.16 L173.21,172.12 L173.72,172.08 L174.23,172.04 L174.75,172 L175.26,171.96 L175.77,171.91 L176.28,171.86 L176.79,171.81 L177.3,171.75 L177.82,171.7 L178.33,171.64 L178.84,171.58 L179.35,171.52 L179.86,171.45 L180.38,171.38 L180.89,171.32 L181.4,171.24 L181.91,171.17 L182.42,171.1 L182.94,171.02 L183.45,170.94 L183.96,170.86 L184.47,170.78 L184.98,170.69 L185.49,170.61 L186.01,170.52 L186.52,170.43 L187.03,170.33 L187.54,170.24 L188.05,170.14 L188.57,170.04 L189.08,169.94 L189.59,169.84 L190.1,169.73 L190.61,169.63 L191.12,169.52 L191.64,169.41 L192.15,169.3 L192.66,169.18 L193.17,169.07 L193.68,168.95 L194.2,168.83 L194.71,168.71 L195.22,168.58 L195.73,168.46 L196.24,168.33 L196.76,168.2 L197.27,168.07 L197.78,167.94 L198.29,167.8 L198.8,167.66 L199.31,167.53 L199.83,167.39 L200.34,167.24 L200.85,167.1 L201.36,166.95 L201.87,166.81 L202.39,166.66 L202.9,166.51 L203.41,166.35 L203.92,166.2 L204.43,166.04 L204.95,165.88 L205.46,165.72 L205.97,165.56 L206.48,165.4 L206.99,165.23 L207.5,165.06 L208.02,164.89 L208.53,164.72 L209.04,164.55 L209.55,164.37 L210.06,164.2 L210.58,164.02 L211.09,163.84 L211.6,163.66" stroke="#e39e21"/>
<path d="M47.8,178.28 L48.31,178.16 L48.82,178.04 L49.34,177.93 L49.85,177.81 L50.36,177.7 L50.87,177.59 L51.38,177.47 L51.89,177.36 L52.41,177.25 L52.92,177.14 L53.43,177.03 L53.94,176.92 L54.45,176.82 L54.97,176.71 L55.48,176.6 L55.99,176.5 L56.5,176.39 L57.01,176.29 L57.53,176.19 L58.04,176.08 L58.55,175.98 L59.06,175.88 L59.57,175.78 L60.08,175.69 L60.6,175.59 L61.11,175.49 L61.62,175.39 L62.13,175.3 L62.64,175.21 L63.16,175.11 L63.67,175.02 L64.18,174.93 L64.69,174.84 L65.2,174.75 L65.72,174.66 L66.23,174.58 L66.74,174.49 L67.25,174.4 L67.76,174.32 L68.27,174.24 L68.79,174.16 L69.3,174.08 L69.81,174 L70.32,173.92 L70.83,173.84 L71.35,173.77 L71.86,173.7 L72.37,173.63 L72.88,173.56 L73.39,173.49 L73.91,173.42 L74.42,173.36 L74.93,173.3 L75.44,173.24 L75.95,173.18 L76.46,173.12 L76.98,173.07 L77.49,173.02 L78,172.97 L78.51,172.93 L79.02,172.88 L79.54,172.84 L80.05,172.8 L80.56,172.77 L81.07,172.74 L81.58,172.71 L82.1,172.68 L82.61,172.66 L83.12,172.64 L83.63,172.62 L84.14,172.6 L84.65,172.59 L85.17,172.57 L85.68,172.56 L86.19,172.55 L86.7,172.55 L87.21,172.54 L87.73,172.53 L88.24,172.53 L88.75,172.53 L89.26,172.52 L89.77,172.52 L90.29,172.52 L90.8,172.52 L91.31,172.51 L91.82,172.51 L92.33,172.5 L92.84,172.5 L93.36,172.49 L93.87,172.49 L94.38,172.48 L94.89,172.48 L95.4,172.47 L95.92,172.45 L96.43,172.42 L96.94,172.37 L97.45,172.32 L97.96,172.26 L98.48,172.2 L98.99,172.13 L99.5,172.06 L100.01,171.99 L100.52,171.92 L101.03,171.86 L101.55,171.8 L102.06,171.75 L102.57,171.7 L103.08,171.66 L103.59,171.63 L104.11,171.6 L104.62,171.58 L105.13,171.56 L105.64,171.54 L106.15,171.53 L106.67,171.52 L107.18,171.51 L107.69,171.5 L108.2,171.5 L108.71,171.5 L109.22,171.49 L109.74,171.49 L110.25,171.49 L110.76,171.49 L111.27,171.49 L111.78,171.49 L112.3,171.49 L112.81,171.49 L113.32,171.48 L113.83,171.48 L114.34,171.48 L114.86,171.48 L115.37,171.48 L115.88,171.48 L116.39,171.48 L116.9,171.48 L117.41,171.48 L117.93,171.48 L118.44,171.47 L118.95,171.47 L119.46,171.47 L119.97,171.47 L120.49,171.47 L121,171.47 L121.51,171.47 L122.02,171.47 L122.53,171.46 L123.05,171.46 L123.56,171.46 L124.07,171.46 L124.58,171.46 L125.09,171.46 L125.6,171.46 L126.12,171.45 L126.63,171.45 L127.14,171.45 L127.65,171.45 L128.16,171.45 L128.68,171.45 L129.19,171.44 L129.7,171.44 L130.21,171.44 L130.72,171.44 L131.24,171.43 L131.75,171.43 L132.26,171.43 L132.77,171.43 L133.28,171.42 L133.79,171.42 L134.31,171.42 L134.82,171.42 L135.33,171.41 L135.84,171.41 L136.35,171.41 L136.87,171.4 L137.38,171.4 L137.89,171.39 L138.4,171.39 L138.91,171.39 L139.43,171.38 L139.94,171.38 L140.45,171.37 L140.96,171.37 L141.47,171.36 L141.98,171.36 L142.5,171.35 L143.01,171.35 L143.52,171.34 L144.03,171.33 L144.54,171.33 L145.06,171.32 L145.57,171.31 L146.08,171.3 L146.59,171.29 L147.1,171.28 L147.62,171.27 L148.13,171.26 L148.64,171.25 L149.15,171.24 L149.66,171.23 L150.17,171.22 L150.69,171.2 L151.2,171.19 L151.71,171.17 L152.22,171.15 L152.73,171.14 L153.25,171.12 L153.76,171.1 L154.27,171.07 L154.78,171.05 L155.29,171.02 L155.81,171 L156.32,170.96 L156.83,170.93 L157.34,170.89 L157.85,170.85 L158.37,170.81 L158.88,170.76 L159.39,170.71 L159.9,170.65 L160.41,170.59 L160.92,170.51 L161.44,170.43 L161.95,170.34 L162.46,170.24 L162.97,170.12 L163.48,169.98 L164,169.82 L164.51,169.61 L165.02,169.35 L165.53,169 L166.04,168.52 L166.55,167.85 L167.07,166.88 L167.58,165.5 L168.09,163.58 L168.6,160.98 L169.11,157.56 L169.63,153.21 L170.14,147.9 L170.65,141.69 L171.16,134.78 L171.67,127.49 L172.19,120.33 L172.7,113.96 L173.21,109.16 L173.72,106.63 L174.23,106.75 L174.75,109.25 L175.26,113.7 L175.77,119.5 L176.28,126 L176.79,132.67 L177.3,139.07 L177.82,144.89 L178.33,149.96 L178.84,154.19 L179.35,157.59 L179.86,160.22 L180.38,162.18 L180.89,163.61 L181.4,164.61 L181.91,165.29 L182.42,165.75 L182.94,166.04 L183.45,166.21 L183.96,166.31 L184.47,166.36 L184.98,166.37 L185.49,166.35 L186.01,166.32 L186.52,166.26 L187.03,166.19 L187.54,166.12 L188.05,166.03 L188.57,165.93 L189.08,165.82 L189.59,165.71 L190.1,165.59 L190.61,165.46 L191.12,165.33 L191.64,165.2 L192.15,165.05 L192.66,164.91 L193.17,164.76 L193.68,164.61 L194.2,164.45 L194.71,164.29 L195.22,164.12 L195.73,163.96 L196.24,163.79 L196.76,163.61 L197.27,163.44 L197.78,163.26 L198.29,163.08 L198.8,162.9 L199.31,162.71 L199.83,162.52 L200.34,162.33 L200.85,162.14 L201.36,161.94 L201.87,161.75 L202.39,161.55 L202.9,161.35 L203.41,161.15 L203.92,160.94 L204.43,160.74 L204.95,160.53 L205.46,160.32 L205.97,160.11 L206.48,159.89 L206.99,159.68 L207.5,159.46 L208.02,159.24 L208.53,159.02 L209.04,158.8 L209.55,158.58 L210.06,158.35 L210.58,158.13 L211.09,157.9 L211.6,157.67" stroke="#20d0dc"/>
<path d="M47.8,179.38 L48.31,179.26 L48.82,179.15 L49.34,179.03 L49.85,178.92 L50.36,178.81 L50.87,178.7 L51.38,178.59 L51.89,178.48 L52.41,178.37 L52.92,178.26 L53.43,178.16 L53.94,178.05 L54.45,177.95 L54.97,177.85 L55.48,177.74 L55.99,177.64 L56.5,177.54 L57.01,177.44 L57.53,177.34 L58.04,177.25 L58.55,177.15 L59.06,177.05 L59.57,176.96 L60.08,176.87 L60.6,176.77 L61.11,176.68 L61.62,176.59 L62.13,176.51 L62.64,176.42 L63.16,176.33 L63.67,176.25 L64.18,176.16 L64.69,176.08 L65.2,176 L65.72,175.92 L66.23,175.84 L66.74,175.77 L67.25,175.69 L67.76,175.62 L68.27,175.55 L68.79,175.48 L69.3,175.41 L69.81,175.34 L70.32,175.28 L70.83,175.22 L71.35,175.16 L71.86,175.1 L72.37,175.05 L72.88,174.99 L73.39,174.94 L73.91,174.89 L74.42,174.85 L74.93,174.81 L75.44,174.77 L75.95,174.73 L76.46,174.7 L76.98,174.67 L77.49,174.65 L78,174.63 L78.51,174.61 L79.02,174.59 L79.54,174.58 L80.05,174.58 L80.56,174.57 L81.07,174.57 L81.58,174.58 L82.1,174.59 L82.61,174.6 L83.12,174.62 L83.63,174.64 L84.14,174.67 L84.65,174.7 L85.17,174.74 L85.68,174.77 L86.19,174.82 L86.7,174.87 L87.21,174.92 L87.73,174.98 L88.24,175.04 L88.75,175.1 L89.26,175.17 L89.77,175.25 L90.29,175.33 L90.8,175.42 L91.31,175.51 L91.82,175.61 L92.33,175.72 L92.84,175.83 L93.36,175.96 L93.87,176.09 L94.38,176.24 L94.89,176.4 L95.4,176.57 L95.92,176.76 L96.43,176.97 L96.94,177.19 L97.45,177.43 L97.96,177.69 L98.48,177.98 L98.99,178.3 L99.5,178.66 L100.01,179.06 L100.52,179.5 L101.03,180 L101.55,180.57 L102.06,181.21 L102.57,181.94 L103.08,182.78 L103.59,183.75 L104.11,184.86 L104.62,186.15 L105.13,187.66 L105.64,189.41 L106.15,191.46 L106.67,193.86 L107.18,196.66 L107.69,199.94 L108.2,203.72 L108.71,208.04 L109.22,212.86 L109.74,218.04 L110.25,223.28 L110.76,228.13 L111.27,231.98 L111.78,234.2 L112.3,234.04 L112.81,228.65 L113.32,219.89 L113.83,210.77 L114.34,202.89 L114.86,196.63 L115.37,191.82 L115.88,188.16 L116.39,185.35 L116.9,183.18 L117.41,181.49 L117.93,180.14 L118.44,179.06 L118.95,178.17 L119.46,177.45 L119.97,176.85 L120.49,176.34 L121,175.92 L121.51,175.55 L122.02,175.24 L122.53,174.97 L123.05,174.73 L123.56,174.53 L124.07,174.35 L124.58,174.19 L125.09,174.04 L125.6,173.92 L126.12,173.8 L126.63,173.7 L127.14,173.61 L127.65,173.52 L128.16,173.45 L128.68,173.38 L129.19,173.31 L129.7,173.26 L130.21,173.2 L130.72,173.15 L131.24,173.11 L131.75,173.07 L132.26,173.03 L132.77,172.99 L133.28,172.96 L133.79,172.93 L134.31,172.9 L134.82,172.87 L135.33,172.85 L135.84,172.83 L136.35,172.8 L136.87,172.78 L137.38,172.76 L137.89,172.74 L138.4,172.73 L138.91,172.71 L139.43,172.7 L139.94,172.68 L140.45,172.67 L140.96,172.65 L141.47,172.64 L141.98,172.63 L142.5,172.62 L143.01,172.61 L143.52,172.6 L144.03,172.59 L144.54,172.58 L145.06,172.57 L145.57,172.56 L146.08,172.55 L146.59,172.55 L147.1,172.54 L147.62,172.53 L148.13,172.52 L148.64,172.52 L149.15,172.51 L149.66,172.51 L150.17,172.5 L150.69,172.49 L151.2,172.49 L151.71,172.48 L152.22,172.48 L152.73,172.47 L153.25,172.47 L153.76,172.47 L154.27,172.46 L154.78,172.46 L155.29,172.45 L155.81,172.45 L156.32,172.45 L156.83,172.44 L157.34,172.44 L157.85,172.44 L158.37,172.43 L158.88,172.43 L159.39,172.43 L159.9,172.42 L160.41,172.42 L160.92,172.42 L161.44,172.42 L161.95,172.41 L162.46,172.41 L162.97,172.41 L163.48,172.41 L164,172.4 L164.51,172.4 L165.02,172.4 L165.53,172.4 L166.04,172.4 L166.55,172.39 L167.07,172.39 L167.58,172.38 L168.09,172.36 L168.6,172.34 L169.11,172.32 L169.63,172.29 L170.14,172.25 L170.65,172.22 L171.16,172.18 L171.67,172.13 L172.19,172.08 L172.7,172.03 L173.21,171.97 L173.72,171.91 L174.23,171.85 L174.75,171.78 L175.26,171.71 L175.77,171.64 L176.28,171.56 L176.79,171.48 L177.3,171.39 L177.82,171.31 L178.33,171.21 L178.84,171.12 L179.35,171.02 L179.86,170.92 L180.38,170.81 L180.89,170.71 L181.4,170.59 L181.91,170.48 L182.42,170.36 L182.94,170.24 L183.45,170.12 L183.96,169.99 L184.47,169.86 L184.98,169.72 L185.49,169.59 L186.01,169.45 L186.52,169.3 L187.03,169.16 L187.54,169.01 L188.05,168.85 L188.57,168.7 L189.08,168.54 L189.59,168.38 L190.1,168.21 L190.61,168.04 L191.12,167.87 L191.64,167.7 L192.15,167.52 L192.66,167.34 L193.17,167.15 L193.68,166.97 L194.2,166.78 L194.71,166.59 L195.22,166.39 L195.73,166.19 L196.24,165.99 L196.76,165.79 L197.27,165.58 L197.78,165.37 L198.29,165.16 L198.8,164.94 L199.31,164.72 L199.83,164.5 L200.34,164.27 L200.85,164.05 L201.36,163.82 L201.87,163.58 L202.39,163.35 L202.9,163.11 L203.41,162.86 L203.92,162.62 L204.43,162.37 L204.95,162.12 L205.46,161.87 L205.97,161.61 L206.48,161.35 L206.99,161.09 L207.5,160.82 L208.02,160.56 L208.53,160.29 L209.04,160.01 L209.55,159.74 L210.06,159.46 L210.58,159.18 L211.09,158.89 L211.6,158.6" stroke="#20d0dc"/>
<path d="M47.8,182.34 L48.31,182.17 L48.82,182 L49.34,181.83 L49.85,181.66 L50.36,181.5 L50.87,181.33 L51.38,181.17 L51.89,181 L52.41,180.84 L52.92,180.68 L53.43,180.52 L53.94,180.37 L54.45,180.21 L54.97,180.06 L55.48,179.9 L55.99,179.75 L56.5,179.6 L57.01,179.45 L57.53,179.3 L58.04,179.16 L58.55,179.01 L59.06,178.87 L59.57,178.73 L60.08,178.59 L60.6,178.45 L61.11,178.31 L61.62,178.18 L62.13,178.04 L62.64,177.91 L63.16,177.78 L63.67,177.65 L64.18,177.52 L64.69,177.4 L65.2,177.27 L65.72,177.15 L66.23,177.03 L66.74,176.92 L67.25,176.8 L67.76,176.69 L68.27,176.58 L68.79,176.47 L69.3,176.37 L69.81,176.26 L70.32,176.16 L70.83,176.07 L71.35,175.97 L71.86,175.88 L72.37,175.8 L72.88,175.71 L73.39,175.63 L73.91,175.56 L74.42,175.48 L74.93,175.41 L75.44,175.35 L75.95,175.29 L76.46,175.24 L76.98,175.19 L77.49,175.14 L78,175.1 L78.51,175.07 L79.02,175.04 L79.54,175.01 L80.05,174.99 L80.56,174.98 L81.07,174.97 L81.58,174.97 L82.1,174.97 L82.61,174.98 L83.12,175 L83.63,175.02 L84.14,175.04 L84.65,175.07 L85.17,175.11 L85.68,175.15 L86.19,175.19 L86.7,175.24 L87.21,175.28 L87.73,175.31 L88.24,175.32 L88.75,175.31 L89.26,175.28 L89.77,175.24 L90.29,175.19 L90.8,175.11 L91.31,175.02 L91.82,174.92 L92.33,174.8 L92.84,174.67 L93.36,174.53 L93.87,174.38 L94.38,174.22 L94.89,174.06 L95.4,173.89 L95.92,173.7 L96.43,173.5 L96.94,173.29 L97.45,173.07 L97.96,172.87 L98.48,172.69 L98.99,172.54 L99.5,172.43 L100.01,172.31 L100.52,172.2 L101.03,172.1 L101.55,172 L102.06,171.92 L102.57,171.84 L103.08,171.77 L103.59,171.72 L104.11,171.67 L104.62,171.63 L105.13,171.6 L105.64,171.57 L106.15,171.55 L106.67,171.54 L107.18,171.52 L107.69,171.51 L108.2,171.51 L108.71,171.5 L109.22,171.5 L109.74,171.49 L110.25,171.49 L110.76,171.49 L111.27,171.49 L111.78,171.49 L112.3,171.49 L112.81,171.49 L113.32,171.48 L113.83,171.48 L114.34,171.48 L114.86,171.48 L115.37,171.48 L115.88,171.48 L116.39,171.48 L116.9,171.48 L117.41,171.48 L117.93,171.48 L118.44,171.48 L118.95,171.47 L119.46,171.47 L119.97,171.47 L120.49,171.47 L121,171.47 L121.51,171.47 L122.02,171.47 L122.53,171.47 L123.05,171.46 L123.56,171.46 L124.07,171.46 L124.58,171.46 L125.09,171.46 L125.6,171.46 L126.12,171.46 L126.63,171.45 L127.14,171.45 L127.65,171.45 L128.16,171.45 L128.68,171.45 L129.19,171.44 L129.7,171.44 L130.21,171.44 L130.72,171.44 L131.24,171.44 L131.75,171.43 L132.26,171.43 L132.77,171.43 L133.28,171.43 L133.79,171.42 L134.31,171.42 L134.82,171.42 L135.33,171.41 L135.84,171.41 L136.35,171.41 L136.87,171.4 L137.38,171.4 L137.89,171.4 L138.4,171.39 L138.91,171.39 L139.43,171.38 L139.94,171.38 L140.45,171.37 L140.96,171.37 L141.47,171.36 L141.98,171.36 L142.5,171.35 L143.01,171.35 L143.52,171.34 L144.03,171.33 L144.54,171.33 L145.06,171.32 L145.57,171.31 L146.08,171.3 L146.59,171.29 L147.1,171.29 L147.62,171.28 L148.13,171.27 L148.64,171.25 L149.15,171.24 L149.66,171.23 L150.17,171.22 L150.69,171.2 L151.2,171.19 L151.71,171.17 L152.22,171.16 L152.73,171.14 L153.25,171.12 L153.76,171.1 L154.27,171.07 L154.78,171.05 L155.29,171.02 L155.81,170.99 L156.32,170.96 L156.83,170.93 L157.34,170.89 L157.85,170.85 L158.37,170.81 L158.88,170.76 L159.39,170.7 L159.9,170.64 L160.41,170.58 L160.92,170.5 L161.44,170.42 L161.95,170.32 L162.46,170.22 L162.97,170.1 L163.48,169.95 L164,169.79 L164.51,169.58 L165.02,169.31 L165.53,168.96 L166.04,168.47 L166.55,167.77 L167.07,166.75 L167.58,165.27 L168.09,163.18 L168.6,160.31 L169.11,156.5 L169.63,151.62 L170.14,145.63 L170.65,138.62 L171.16,130.83 L171.67,122.72 L172.19,114.92 L172.7,108.26 L173.21,103.68 L173.72,101.95 L174.23,103.16 L174.75,106.84 L175.26,112.41 L175.77,119.13 L176.28,126.32 L176.79,133.42 L177.3,140.02 L177.82,145.84 L178.33,150.74 L178.84,154.71 L179.35,157.78 L179.86,160.07 L180.38,161.72 L180.89,162.86 L181.4,163.61 L181.91,164.09 L182.42,164.37 L182.94,164.52 L183.45,164.57 L183.96,164.56 L184.47,164.51 L184.98,164.43 L185.49,164.32 L186.01,164.19 L186.52,164.05 L187.03,163.89 L187.54,163.72 L188.05,163.54 L188.57,163.35 L189.08,163.15 L189.59,162.95 L190.1,162.73 L190.61,162.51 L191.12,162.29 L191.64,162.05 L192.15,161.81 L192.66,161.57 L193.17,161.32 L193.68,161.07 L194.2,160.81 L194.71,160.55 L195.22,160.28 L195.73,160.01 L196.24,159.73 L196.76,159.45 L197.27,159.17 L197.78,158.89 L198.29,158.6 L198.8,158.31 L199.31,158.01 L199.83,157.71 L200.34,157.41 L200.85,157.1 L201.36,156.8 L201.87,156.49 L202.39,156.17 L202.9,155.86 L203.41,155.54 L203.92,155.21 L204.43,154.89 L204.95,154.56 L205.46,154.23 L205.97,153.9 L206.48,153.57 L206.99,153.23 L207.5,152.89 L208.02,152.55 L208.53,152.2 L209.04,151.86 L209.55,151.51 L210.06,151.16 L210.58,150.8 L211.09,150.45 L211.6,150.09" stroke="#7a3838" stroke-width="1.25"/>
<path d="M47.8,182.63 L48.31,182.46 L48.82,182.29 L49.34,182.12 L49.85,181.95 L50.36,181.79 L50.87,181.62 L51.38,181.46 L51.89,181.29 L52.41,181.13 L52.92,180.97 L53.43,180.81 L53.94,180.66 L54.45,180.5 L54.97,180.34 L55.48,180.19 L55.99,180.04 L56.5,179.89 L57.01,179.74 L57.53,179.59 L58.04,179.45 L58.55,179.3 L59.06,179.16 L59.57,179.02 L60.08,178.88 L60.6,178.74 L61.11,178.6 L61.62,178.46 L62.13,178.33 L62.64,178.2 L63.16,178.07 L63.67,177.94 L64.18,177.81 L64.69,177.69 L65.2,177.56 L65.72,177.44 L66.23,177.32 L66.74,177.21 L67.25,177.09 L67.76,176.98 L68.27,176.87 L68.79,176.76 L69.3,176.65 L69.81,176.55 L70.32,176.45 L70.83,176.36 L71.35,176.26 L71.86,176.17 L72.37,176.08 L72.88,176 L73.39,175.92 L73.91,175.84 L74.42,175.77 L74.93,175.7 L75.44,175.64 L75.95,175.58 L76.46,175.53 L76.98,175.48 L77.49,175.43 L78,175.39 L78.51,175.36 L79.02,175.33 L79.54,175.3 L80.05,175.28 L80.56,175.27 L81.07,175.26 L81.58,175.26 L82.1,175.26 L82.61,175.27 L83.12,175.29 L83.63,175.31 L84.14,175.33 L84.65,175.36 L85.17,175.4 L85.68,175.44 L86.19,175.48 L86.7,175.53 L87.21,175.58 L87.73,175.64 L88.24,175.7 L88.75,175.77 L89.26,175.84 L89.77,175.92 L90.29,176 L90.8,176.08 L91.31,176.17 L91.82,176.27 L92.33,176.37 L92.84,176.47 L93.36,176.59 L93.87,176.71 L94.38,176.84 L94.89,176.99 L95.4,177.15 L95.92,177.32 L96.43,177.5 L96.94,177.69 L97.45,177.9 L97.96,178.12 L98.48,178.37 L98.99,178.63 L99.5,178.93 L100.01,179.26 L100.52,179.63 L101.03,180.04 L101.55,180.5 L102.06,181.03 L102.57,181.63 L103.08,182.31 L103.59,183.1 L104.11,184.01 L104.62,185.05 L105.13,186.27 L105.64,187.68 L106.15,189.33 L106.67,191.26 L107.18,193.53 L107.69,196.18 L108.2,199.29 L108.71,202.91 L109.22,207.08 L109.74,211.81 L110.25,217.01 L110.76,222.49 L111.27,227.86 L111.78,232.59 L112.3,236 L112.81,237.5 L113.32,234.59 L113.83,224.95 L114.34,213.65 L114.86,203.92 L115.37,196.5 L115.88,191.08 L116.39,187.13 L116.9,184.23 L117.41,182.06 L117.93,180.4 L118.44,179.12 L118.95,178.11 L119.46,177.31 L119.97,176.65 L120.49,176.11 L121,175.67 L121.51,175.3 L122.02,174.98 L122.53,174.71 L123.05,174.48 L123.56,174.28 L124.07,174.1 L124.58,173.95 L125.09,173.82 L125.6,173.7 L126.12,173.59 L126.63,173.5 L127.14,173.41 L127.65,173.34 L128.16,173.27 L128.68,173.21 L129.19,173.15 L129.7,173.1 L130.21,173.05 L130.72,173.01 L131.24,172.97 L131.75,172.94 L132.26,172.9 L132.77,172.87 L133.28,172.84 L133.79,172.82 L134.31,172.79 L134.82,172.77 L135.33,172.75 L135.84,172.73 L136.35,172.71 L136.87,172.69 L137.38,172.67 L137.89,172.66 L138.4,172.64 L138.91,172.63 L139.43,172.62 L139.94,172.61 L140.45,172.59 L140.96,172.58 L141.47,172.57 L141.98,172.56 L142.5,172.55 L143.01,172.55 L143.52,172.54 L144.03,172.53 L144.54,172.52 L145.06,172.51 L145.57,172.51 L146.08,172.5 L146.59,172.49 L147.1,172.49 L147.62,172.48 L148.13,172.48 L148.64,172.47 L149.15,172.47 L149.66,172.46 L150.17,172.46 L150.69,172.45 L151.2,172.45 L151.71,172.44 L152.22,172.44 L152.73,172.44 L153.25,172.43 L153.76,172.43 L154.27,172.43 L154.78,172.42 L155.29,172.42 L155.81,172.42 L156.32,172.41 L156.83,172.41 L157.34,172.41 L157.85,172.41 L158.37,172.4 L158.88,172.4 L159.39,172.4 L159.9,172.4 L160.41,172.39 L160.92,172.39 L161.44,172.39 L161.95,172.39 L162.46,172.39 L162.97,172.38 L163.48,172.38 L164,172.38 L164.51,172.38 L165.02,172.38 L165.53,172.37 L166.04,172.37 L166.55,172.37 L167.07,172.36 L167.58,172.35 L168.09,172.33 L168.6,172.3 L169.11,172.26 L169.63,172.21 L170.14,172.16 L170.65,172.11 L171.16,172.05 L171.67,171.98 L172.19,171.9 L172.7,171.82 L173.21,171.74 L173.72,171.64 L174.23,171.55 L174.75,171.44 L175.26,171.33 L175.77,171.22 L176.28,171.1 L176.79,170.97 L177.3,170.84 L177.82,170.71 L178.33,170.57 L178.84,170.42 L179.35,170.27 L179.86,170.11 L180.38,169.95 L180.89,169.78 L181.4,169.61 L181.91,169.43 L182.42,169.25 L182.94,169.06 L183.45,168.87 L183.96,168.67 L184.47,168.47 L184.98,168.26 L185.49,168.05 L186.01,167.83 L186.52,167.61 L187.03,167.38 L187.54,167.15 L188.05,166.91 L188.57,166.67 L189.08,166.42 L189.59,166.17 L190.1,165.92 L190.61,165.65 L191.12,165.39 L191.64,165.12 L192.15,164.84 L192.66,164.56 L193.17,164.28 L193.68,163.99 L194.2,163.7 L194.71,163.4 L195.22,163.1 L195.73,162.79 L196.24,162.48 L196.76,162.16 L197.27,161.84 L197.78,161.51 L198.29,161.18 L198.8,160.85 L199.31,160.51 L199.83,160.16 L200.34,159.81 L200.85,159.46 L201.36,159.1 L201.87,158.74 L202.39,158.37 L202.9,158 L203.41,157.63 L203.92,157.25 L204.43,156.86 L204.95,156.47 L205.46,156.08 L205.97,155.68 L206.48,155.28 L206.99,154.87 L207.5,154.46 L208.02,154.05 L208.53,153.63 L209.04,153.2 L209.55,152.77 L210.06,152.34 L210.58,151.9 L211.09,151.46 L211.6,151.02" stroke="#7a3838" stroke-width="1.25"/>
<path d="M50.43,181.46a0.95,0.95 0 1,0 1.9,0a0.95,0.95 0 1,0 -1.9,0M54.02,180.34a0.95,0.95 0 1,0 1.9,0a0.95,0.95 0 1,0 -1.9,0M57.6,179.3a0.95,0.95 0 1,0 1.9,0a0.95,0.95 0 1,0 -1.9,0M61.18,178.33a0.95,0.95 0 1,0 1.9,0a0.95,0.95 0 1,0 -1.9,0M64.77,177.44a0.95,0.95 0 1,0 1.9,0a0.95,0.95 0 1,0 -1.9,0M68.35,176.65a0.95,0.95 0 1,0 1.9,0a0.95,0.95 0 1,0 -1.9,0M71.93,176a0.95,0.95 0 1,0 1.9,0a0.95,0.95 0 1,0 -1.9,0M75.51,175.53a0.95,0.95 0 1,0 1.9,0a0.95,0.95 0 1,0 -1.9,0M79.61,175.27a0.95,0.95 0 1,0 1.9,0a0.95,0.95 0 1,0 -1.9,0M83.7,175.36a0.95,0.95 0 1,0 1.9,0a0.95,0.95 0 1,0 -1.9,0M87.29,175.7a0.95,0.95 0 1,0 1.9,0a0.95,0.95 0 1,0 -1.9,0M90.87,176.27a0.95,0.95 0 1,0 1.9,0a0.95,0.95 0 1,0 -1.9,0M94.45,177.15a0.95,0.95 0 1,0 1.9,0a0.95,0.95 0 1,0 -1.9,0M98.04,178.63a0.95,0.95 0 1,0 1.9,0a0.95,0.95 0 1,0 -1.9,0M101.11,181.03a0.95,0.95 0 1,0 1.9,0a0.95,0.95 0 1,0 -1.9,0M103.16,184.01a0.95,0.95 0 1,0 1.9,0a0.95,0.95 0 1,0 -1.9,0M104.69,187.68a0.95,0.95 0 1,0 1.9,0a0.95,0.95 0 1,0 -1.9,0M105.72,191.26a0.95,0.95 0 1,0 1.9,0a0.95,0.95 0 1,0 -1.9,0M106.74,196.18a0.95,0.95 0 1,0 1.9,0a0.95,0.95 0 1,0 -1.9,0M114.42,196.5a0.95,0.95 0 1,0 1.9,0a0.95,0.95 0 1,0 -1.9,0M114.93,191.08a0.95,0.95 0 1,0 1.9,0a0.95,0.95 0 1,0 -1.9,0M115.44,187.13a0.95,0.95 0 1,0 1.9,0a0.95,0.95 0 1,0 -1.9,0M116.46,182.06a0.95,0.95 0 1,0 1.9,0a0.95,0.95 0 1,0 -1.9,0M118,178.11a0.95,0.95 0 1,0 1.9,0a0.95,0.95 0 1,0 -1.9,0M120.56,175.3a0.95,0.95 0 1,0 1.9,0a0.95,0.95 0 1,0 -1.9,0M124.14,173.82a0.95,0.95 0 1,0 1.9,0a0.95,0.95 0 1,0 -1.9,0M127.73,173.21a0.95,0.95 0 1,0 1.9,0a0.95,0.95 0 1,0 -1.9,0M131.82,172.87a0.95,0.95 0 1,0 1.9,0a0.95,0.95 0 1,0 -1.9,0M135.92,172.69a0.95,0.95 0 1,0 1.9,0a0.95,0.95 0 1,0 -1.9,0M140.01,172.58a0.95,0.95 0 1,0 1.9,0a0.95,0.95 0 1,0 -1.9,0M144.11,172.51a0.95,0.95 0 1,0 1.9,0a0.95,0.95 0 1,0 -1.9,0M148.2,172.47a0.95,0.95 0 1,0 1.9,0a0.95,0.95 0 1,0 -1.9,0M152.3,172.43a0.95,0.95 0 1,0 1.9,0a0.95,0.95 0 1,0 -1.9,0M156.39,172.41a0.95,0.95 0 1,0 1.9,0a0.95,0.95 0 1,0 -1.9,0M160.49,172.39a0.95,0.95 0 1,0 1.9,0a0.95,0.95 0 1,0 -1.9,0M164.58,172.37a0.95,0.95 0 1,0 1.9,0a0.95,0.95 0 1,0 -1.9,0M168.68,172.21a0.95,0.95 0 1,0 1.9,0a0.95,0.95 0 1,0 -1.9,0M172.26,171.74a0.95,0.95 0 1,0 1.9,0a0.95,0.95 0 1,0 -1.9,0M175.84,170.97a0.95,0.95 0 1,0 1.9,0a0.95,0.95 0 1,0 -1.9,0M179.43,169.95a0.95,0.95 0 1,0 1.9,0a0.95,0.95 0 1,0 -1.9,0M183.01,168.67a0.95,0.95 0 1,0 1.9,0a0.95,0.95 0 1,0 -1.9,0M186.59,167.15a0.95,0.95 0 1,0 1.9,0a0.95,0.95 0 1,0 -1.9,0" stroke="#7a3838" stroke-width="0.55"/>
<path d="M47.8,197.19 L48.31,196.76 L48.82,196.34 L49.34,195.92 L49.85,195.5 L50.36,195.08 L50.87,194.67 L51.38,194.26 L51.89,193.85 L52.41,193.45 L52.92,193.05 L53.43,192.65 L53.94,192.26 L54.45,191.87 L54.97,191.48 L55.48,191.1 L55.99,190.71 L56.5,190.34 L57.01,189.96 L57.53,189.59 L58.04,189.22 L58.55,188.86 L59.06,188.49 L59.57,188.14 L60.08,187.78 L60.6,187.43 L61.11,187.08 L61.62,186.74 L62.13,186.4 L62.64,186.06 L63.16,185.73 L63.67,185.4 L64.18,185.08 L64.69,184.76 L65.2,184.44 L65.72,184.13 L66.23,183.82 L66.74,183.52 L67.25,183.22 L67.76,182.92 L68.27,182.64 L68.79,182.35 L69.3,182.08 L69.81,181.8 L70.32,181.54 L70.83,181.28 L71.35,181.02 L71.86,180.78 L72.37,180.54 L72.88,180.31 L73.39,180.08 L73.91,179.86 L74.42,179.65 L74.93,179.45 L75.44,179.26 L75.95,179.08 L76.46,178.9 L76.98,178.74 L77.49,178.58 L78,178.44 L78.51,178.3 L79.02,178.18 L79.54,178.07 L80.05,177.96 L80.56,177.87 L81.07,177.79 L81.58,177.72 L82.1,177.66 L82.61,177.6 L83.12,177.56 L83.63,177.53 L84.14,177.51 L84.65,177.5 L85.17,177.5 L85.68,177.5 L86.19,177.51 L86.7,177.53 L87.21,177.55 L87.73,177.55 L88.24,177.52 L88.75,177.48 L89.26,177.42 L89.77,177.35 L90.29,177.25 L90.8,177.14 L91.31,177.01 L91.82,176.87 L92.33,176.71 L92.84,176.54 L93.36,176.35 L93.87,176.16 L94.38,175.97 L94.89,175.78 L95.4,175.58 L95.92,175.34 L96.43,175.07 L96.94,174.78 L97.45,174.46 L97.96,174.15 L98.48,173.85 L98.99,173.59 L99.5,173.35 L100.01,173.12 L100.52,172.9 L101.03,172.7 L101.55,172.51 L102.06,172.33 L102.57,172.18 L103.08,172.05 L103.59,171.94 L104.11,171.84 L104.62,171.76 L105.13,171.7 L105.64,171.65 L106.15,171.61 L106.67,171.58 L107.18,171.55 L107.69,171.54 L108.2,171.52 L108.71,171.51 L109.22,171.51 L109.74,171.5 L110.25,171.5 L110.76,171.49 L111.27,171.49 L111.78,171.49 L112.3,171.49 L112.81,171.49 L113.32,171.49 L113.83,171.49 L114.34,171.49 L114.86,171.48 L115.37,171.48 L115.88,171.48 L116.39,171.48 L116.9,171.48 L117.41,171.48 L117.93,171.48 L118.44,171.48 L118.95,171.48 L119.46,171.48 L119.97,171.47 L120.49,171.47 L121,171.47 L121.51,171.47 L122.02,171.47 L122.53,171.47 L123.05,171.47 L123.56,171.47 L124.07,171.46 L124.58,171.46 L125.09,171.46 L125.6,171.46 L126.12,171.46 L126.63,171.46 L127.14,171.46 L127.65,171.45 L128.16,171.45 L128.68,171.45 L129.19,171.45 L129.7,171.45 L130.21,171.44 L130.72,171.44 L131.24,171.44 L131.75,171.44 L132.26,171.43 L132.77,171.43 L133.28,171.43 L133.79,171.43 L134.31,171.42 L134.82,171.42 L135.33,171.42 L135.84,171.42 L136.35,171.41 L136.87,171.41 L137.38,171.41 L137.89,171.4 L138.4,171.4 L138.91,171.39 L139.43,171.39 L139.94,171.39 L140.45,171.38 L140.96,171.38 L141.47,171.37 L141.98,171.37 L142.5,171.36 L143.01,171.35 L143.52,171.35 L144.03,171.34 L144.54,171.34 L145.06,171.33 L145.57,171.32 L146.08,171.31 L146.59,171.31 L147.1,171.3 L147.62,171.29 L148.13,171.28 L148.64,171.27 L149.15,171.26 L149.66,171.24 L150.17,171.23 L150.69,171.22 L151.2,171.2 L151.71,171.19 L152.22,171.17 L152.73,171.15 L153.25,171.14 L153.76,171.12 L154.27,171.09 L154.78,171.07 L155.29,171.04 L155.81,171.02 L156.32,170.99 L156.83,170.95 L157.34,170.92 L157.85,170.88 L158.37,170.84 L158.88,170.79 L159.39,170.74 L159.9,170.68 L160.41,170.62 L160.92,170.55 L161.44,170.47 L161.95,170.38 L162.46,170.27 L162.97,170.16 L163.48,170.02 L164,169.86 L164.51,169.67 L165.02,169.43 L165.53,169.11 L166.04,168.67 L166.55,168.05 L167.07,167.1 L167.58,165.71 L168.09,163.73 L168.6,160.97 L169.11,157.24 L169.63,152.39 L170.14,146.35 L170.65,139.18 L171.16,131.12 L171.67,122.63 L172.19,114.38 L172.7,107.28 L173.21,102.33 L173.72,100.41 L174.23,101.61 L174.75,105.43 L175.26,111.21 L175.77,118.17 L176.28,125.55 L176.79,132.76 L177.3,139.38 L177.82,145.13 L178.33,149.9 L178.84,153.66 L179.35,156.51 L179.86,158.56 L180.38,159.96 L180.89,160.87 L181.4,161.42 L181.91,161.7 L182.42,161.8 L182.94,161.78 L183.45,161.68 L183.96,161.52 L184.47,161.32 L184.98,161.09 L185.49,160.83 L186.01,160.55 L186.52,160.26 L187.03,159.95 L187.54,159.63 L188.05,159.29 L188.57,158.95 L189.08,158.59 L189.59,158.23 L190.1,157.85 L190.61,157.47 L191.12,157.08 L191.64,156.68 L192.15,156.27 L192.66,155.86 L193.17,155.44 L193.68,155.01 L194.2,154.58 L194.71,154.14 L195.22,153.7 L195.73,153.25 L196.24,152.8 L196.76,152.34 L197.27,151.87 L197.78,151.4 L198.29,150.93 L198.8,150.45 L199.31,149.96 L199.83,149.47 L200.34,148.98 L200.85,148.48 L201.36,147.98 L201.87,147.47 L202.39,146.96 L202.9,146.45 L203.41,145.93 L203.92,145.4 L204.43,144.88 L204.95,144.35 L205.46,143.81 L205.97,143.27 L206.48,142.73 L206.99,142.18 L207.5,141.63 L208.02,141.08 L208.53,140.52 L209.04,139.96 L209.55,139.4 L210.06,138.83 L210.58,138.25 L211.09,137.68 L211.6,137.1" stroke="#8c8c14" stroke-width="1.25"/>
<path d="M47.8,197.48 L48.31,197.05 L48.82,196.63 L49.34,196.21 L49.85,195.79 L50.36,195.37 L50.87,194.96 L51.38,194.55 L51.89,194.14 L52.41,193.74 L52.92,193.34 L53.43,192.94 L53.94,192.55 L54.45,192.16 L54.97,191.77 L55.48,191.38 L55.99,191 L56.5,190.62 L57.01,190.25 L57.53,189.88 L58.04,189.51 L58.55,189.14 L59.06,188.78 L59.57,188.42 L60.08,188.07 L60.6,187.72 L61.11,187.37 L61.62,187.03 L62.13,186.69 L62.64,186.35 L63.16,186.02 L63.67,185.69 L64.18,185.36 L64.69,185.04 L65.2,184.73 L65.72,184.42 L66.23,184.11 L66.74,183.81 L67.25,183.51 L67.76,183.21 L68.27,182.93 L68.79,182.64 L69.3,182.36 L69.81,182.09 L70.32,181.83 L70.83,181.57 L71.35,181.31 L71.86,181.07 L72.37,180.83 L72.88,180.59 L73.39,180.37 L73.91,180.15 L74.42,179.94 L74.93,179.74 L75.44,179.55 L75.95,179.37 L76.46,179.19 L76.98,179.03 L77.49,178.87 L78,178.73 L78.51,178.59 L79.02,178.47 L79.54,178.36 L80.05,178.25 L80.56,178.16 L81.07,178.08 L81.58,178.01 L82.1,177.94 L82.61,177.89 L83.12,177.85 L83.63,177.82 L84.14,177.8 L84.65,177.79 L85.17,177.78 L85.68,177.79 L86.19,177.8 L86.7,177.82 L87.21,177.85 L87.73,177.88 L88.24,177.92 L88.75,177.97 L89.26,178.02 L89.77,178.08 L90.29,178.14 L90.8,178.21 L91.31,178.28 L91.82,178.36 L92.33,178.44 L92.84,178.53 L93.36,178.63 L93.87,178.73 L94.38,178.85 L94.89,178.98 L95.4,179.14 L95.92,179.29 L96.43,179.45 L96.94,179.61 L97.45,179.78 L97.96,179.96 L98.48,180.15 L98.99,180.35 L99.5,180.58 L100.01,180.82 L100.52,181.09 L101.03,181.4 L101.55,181.74 L102.06,182.12 L102.57,182.56 L103.08,183.06 L103.59,183.63 L104.11,184.28 L104.62,185.03 L105.13,185.9 L105.64,186.89 L106.15,188.05 L106.67,189.38 L107.18,190.93 L107.69,192.73 L108.2,194.81 L108.71,197.23 L109.22,200.04 L109.74,203.26 L110.25,206.96 L110.76,211.13 L111.27,215.76 L111.78,220.74 L112.3,225.88 L112.81,230.85 L113.32,235.2 L113.83,238.42 L114.34,240.04 L114.86,238.07 L115.37,227.63 L115.88,214.79 L116.39,203.96 L116.9,195.99 L117.41,190.35 L117.93,186.35 L118.44,183.47 L118.95,181.36 L119.46,179.77 L119.97,178.55 L120.49,177.6 L121,176.84 L121.51,176.23 L122.02,175.74 L122.53,175.33 L123.05,174.98 L123.56,174.7 L124.07,174.45 L124.58,174.24 L125.09,174.06 L125.6,173.9 L126.12,173.76 L126.63,173.64 L127.14,173.54 L127.65,173.44 L128.16,173.36 L128.68,173.28 L129.19,173.21 L129.7,173.15 L130.21,173.1 L130.72,173.05 L131.24,173 L131.75,172.96 L132.26,172.92 L132.77,172.89 L133.28,172.86 L133.79,172.83 L134.31,172.8 L134.82,172.77 L135.33,172.75 L135.84,172.73 L136.35,172.71 L136.87,172.69 L137.38,172.67 L137.89,172.66 L138.4,172.64 L138.91,172.63 L139.43,172.61 L139.94,172.6 L140.45,172.59 L140.96,172.58 L141.47,172.57 L141.98,172.56 L142.5,172.55 L143.01,172.54 L143.52,172.53 L144.03,172.52 L144.54,172.51 L145.06,172.51 L145.57,172.5 L146.08,172.49 L146.59,172.49 L147.1,172.48 L147.62,172.47 L148.13,172.47 L148.64,172.46 L149.15,172.46 L149.66,172.45 L150.17,172.45 L150.69,172.44 L151.2,172.44 L151.71,172.44 L152.22,172.43 L152.73,172.43 L153.25,172.42 L153.76,172.42 L154.27,172.42 L154.78,172.41 L155.29,172.41 L155.81,172.41 L156.32,172.41 L156.83,172.4 L157.34,172.4 L157.85,172.4 L158.37,172.4 L158.88,172.39 L159.39,172.39 L159.9,172.39 L160.41,172.39 L160.92,172.38 L161.44,172.38 L161.95,172.38 L162.46,172.38 L162.97,172.38 L163.48,172.37 L164,172.37 L164.51,172.37 L165.02,172.37 L165.53,172.37 L166.04,172.37 L166.55,172.37 L167.07,172.36 L167.58,172.33 L168.09,172.29 L168.6,172.25 L169.11,172.19 L169.63,172.12 L170.14,172.04 L170.65,171.95 L171.16,171.85 L171.67,171.74 L172.19,171.62 L172.7,171.49 L173.21,171.35 L173.72,171.2 L174.23,171.05 L174.75,170.88 L175.26,170.71 L175.77,170.52 L176.28,170.33 L176.79,170.13 L177.3,169.92 L177.82,169.7 L178.33,169.48 L178.84,169.24 L179.35,169 L179.86,168.74 L180.38,168.48 L180.89,168.21 L181.4,167.94 L181.91,167.65 L182.42,167.36 L182.94,167.06 L183.45,166.75 L183.96,166.43 L184.47,166.1 L184.98,165.77 L185.49,165.43 L186.01,165.08 L186.52,164.72 L187.03,164.35 L187.54,163.98 L188.05,163.6 L188.57,163.21 L189.08,162.81 L189.59,162.41 L190.1,162 L190.61,161.58 L191.12,161.15 L191.64,160.72 L192.15,160.27 L192.66,159.82 L193.17,159.37 L193.68,158.9 L194.2,158.43 L194.71,157.95 L195.22,157.46 L195.73,156.96 L196.24,156.46 L196.76,155.95 L197.27,155.44 L197.78,154.91 L198.29,154.38 L198.8,153.84 L199.31,153.29 L199.83,152.74 L200.34,152.18 L200.85,151.61 L201.36,151.03 L201.87,150.45 L202.39,149.86 L202.9,149.26 L203.41,148.66 L203.92,148.05 L204.43,147.43 L204.95,146.8 L205.46,146.17 L205.97,145.53 L206.48,144.88 L206.99,144.23 L207.5,143.56 L208.02,142.89 L208.53,142.22 L209.04,141.54 L209.55,140.85 L210.06,140.15 L210.58,139.45 L211.09,138.74 L211.6,138.02" stroke="#8c8c14" stroke-width="1.25"/>
<path d="M49.92,194.96a0.95,0.95 0 1,0 1.9,0a0.95,0.95 0 1,0 -1.9,0M52.99,192.55a0.95,0.95 0 1,0 1.9,0a0.95,0.95 0 1,0 -1.9,0M56.06,190.25a0.95,0.95 0 1,0 1.9,0a0.95,0.95 0 1,0 -1.9,0M59.13,188.07a0.95,0.95 0 1,0 1.9,0a0.95,0.95 0 1,0 -1.9,0M62.21,186.02a0.95,0.95 0 1,0 1.9,0a0.95,0.95 0 1,0 -1.9,0M65.28,184.11a0.95,0.95 0 1,0 1.9,0a0.95,0.95 0 1,0 -1.9,0M68.35,182.36a0.95,0.95 0 1,0 1.9,0a0.95,0.95 0 1,0 -1.9,0M71.42,180.83a0.95,0.95 0 1,0 1.9,0a0.95,0.95 0 1,0 -1.9,0M75,179.37a0.95,0.95 0 1,0 1.9,0a0.95,0.95 0 1,0 -1.9,0M78.59,178.36a0.95,0.95 0 1,0 1.9,0a0.95,0.95 0 1,0 -1.9,0M82.17,177.85a0.95,0.95 0 1,0 1.9,0a0.95,0.95 0 1,0 -1.9,0M85.75,177.82a0.95,0.95 0 1,0 1.9,0a0.95,0.95 0 1,0 -1.9,0M89.34,178.14a0.95,0.95 0 1,0 1.9,0a0.95,0.95 0 1,0 -1.9,0M92.92,178.73a0.95,0.95 0 1,0 1.9,0a0.95,0.95 0 1,0 -1.9,0M96.5,179.78a0.95,0.95 0 1,0 1.9,0a0.95,0.95 0 1,0 -1.9,0M100.08,181.4a0.95,0.95 0 1,0 1.9,0a0.95,0.95 0 1,0 -1.9,0M102.64,183.63a0.95,0.95 0 1,0 1.9,0a0.95,0.95 0 1,0 -1.9,0M104.69,186.89a0.95,0.95 0 1,0 1.9,0a0.95,0.95 0 1,0 -1.9,0M106.23,190.93a0.95,0.95 0 1,0 1.9,0a0.95,0.95 0 1,0 -1.9,0M107.25,194.81a0.95,0.95 0 1,0 1.9,0a0.95,0.95 0 1,0 -1.9,0M115.95,195.99a0.95,0.95 0 1,0 1.9,0a0.95,0.95 0 1,0 -1.9,0M116.46,190.35a0.95,0.95 0 1,0 1.9,0a0.95,0.95 0 1,0 -1.9,0M116.98,186.35a0.95,0.95 0 1,0 1.9,0a0.95,0.95 0 1,0 -1.9,0M118,181.36a0.95,0.95 0 1,0 1.9,0a0.95,0.95 0 1,0 -1.9,0M119.54,177.6a0.95,0.95 0 1,0 1.9,0a0.95,0.95 0 1,0 -1.9,0M122.1,174.98a0.95,0.95 0 1,0 1.9,0a0.95,0.95 0 1,0 -1.9,0M125.68,173.64a0.95,0.95 0 1,0 1.9,0a0.95,0.95 0 1,0 -1.9,0M129.26,173.1a0.95,0.95 0 1,0 1.9,0a0.95,0.95 0 1,0 -1.9,0M132.84,172.83a0.95,0.95 0 1,0 1.9,0a0.95,0.95 0 1,0 -1.9,0M136.43,172.67a0.95,0.95 0 1,0 1.9,0a0.95,0.95 0 1,0 -1.9,0M140.01,172.58a0.95,0.95 0 1,0 1.9,0a0.95,0.95 0 1,0 -1.9,0M143.59,172.51a0.95,0.95 0 1,0 1.9,0a0.95,0.95 0 1,0 -1.9,0M147.18,172.47a0.95,0.95 0 1,0 1.9,0a0.95,0.95 0 1,0 -1.9,0M150.76,172.44a0.95,0.95 0 1,0 1.9,0a0.95,0.95 0 1,0 -1.9,0M154.34,172.41a0.95,0.95 0 1,0 1.9,0a0.95,0.95 0 1,0 -1.9,0M157.93,172.39a0.95,0.95 0 1,0 1.9,0a0.95,0.95 0 1,0 -1.9,0M161.51,172.38a0.95,0.95 0 1,0 1.9,0a0.95,0.95 0 1,0 -1.9,0M165.09,172.37a0.95,0.95 0 1,0 1.9,0a0.95,0.95 0 1,0 -1.9,0M168.68,172.12a0.95,0.95 0 1,0 1.9,0a0.95,0.95 0 1,0 -1.9,0M172.26,171.35a0.95,0.95 0 1,0 1.9,0a0.95,0.95 0 1,0 -1.9,0M175.84,170.13a0.95,0.95 0 1,0 1.9,0a0.95,0.95 0 1,0 -1.9,0M179.43,168.48a0.95,0.95 0 1,0 1.9,0a0.95,0.95 0 1,0 -1.9,0M182.5,166.75a0.95,0.95 0 1,0 1.9,0a0.95,0.95 0 1,0 -1.9,0" stroke="#8c8c14" stroke-width="0.55"/>
</g>
<path d="M95.4,171.5 L95.92,171.5 L96.43,171.5 L96.94,171.5 L97.45,171.5 L97.96,171.5 L98.48,171.5 L98.99,171.5 L99.5,171.5 L100.01,171.5 L100.52,171.5 L101.03,171.5 L101.55,171.5 L102.06,171.5 L102.57,171.5 L103.08,171.5 L103.59,171.49 L104.11,171.49 L104.62,171.49 L105.13,171.49 L105.64,171.49 L106.15,171.49 L106.67,171.49 L107.18,171.49 L107.69,171.49 L108.2,171.49 L108.71,171.49 L109.22,171.49 L109.74,171.49 L110.25,171.49 L110.76,171.49 L111.27,171.48 L111.78,171.48 L112.3,171.48 L112.81,171.48 L113.32,171.48 L113.83,171.48 L114.34,171.48 L114.86,171.48 L115.37,171.48 L115.88,171.48 L116.39,171.48 L116.9,171.47 L117.41,171.47 L117.93,171.47 L118.44,171.47 L118.95,171.47 L119.46,171.47 L119.97,171.47 L120.49,171.47 L121,171.46 L121.51,171.46 L122.02,171.46 L122.53,171.46 L123.05,171.46 L123.56,171.46 L124.07,171.46 L124.58,171.45 L125.09,171.45 L125.6,171.45 L126.12,171.45 L126.63,171.45 L127.14,171.45 L127.65,171.44 L128.16,171.44 L128.68,171.44 L129.19,171.44 L129.7,171.43 L130.21,171.43 L130.72,171.43 L131.24,171.43 L131.75,171.42 L132.26,171.42 L132.77,171.42 L133.28,171.42 L133.79,171.41 L134.31,171.41 L134.82,171.41 L135.33,171.4 L135.84,171.4 L136.35,171.4 L136.87,171.39 L137.38,171.39 L137.89,171.38 L138.4,171.38 L138.91,171.37 L139.43,171.37 L139.94,171.37 L140.45,171.36 L140.96,171.35 L141.47,171.35 L141.98,171.34 L142.5,171.34 L143.01,171.33 L143.52,171.32 L144.03,171.32 L144.54,171.31 L145.06,171.3 L145.57,171.29 L146.08,171.28 L146.59,171.27 L147.1,171.26 L147.62,171.25 L148.13,171.24 L148.64,171.23 L149.15,171.21 L149.66,171.2 L150.17,171.19 L150.69,171.17 L151.2,171.15 L151.71,171.14 L152.22,171.12 L152.73,171.1 L153.25,171.07 L153.76,171.05 L154.27,171.03 L154.78,171 L155.29,170.97 L155.81,170.94 L156.32,170.9 L156.83,170.86 L157.34,170.82 L157.85,170.77 L158.37,170.72 L158.88,170.67 L159.39,170.6 L159.9,170.53" stroke="#a060e6" stroke-width="1.1" fill="none"/>
<path d="M118.44,175.57 L118.95,175.26 L119.46,175 L119.97,174.76 L120.49,174.56 L121,174.38 L121.51,174.22 L122.02,174.08 L122.53,173.95 L123.05,173.84 L123.56,173.73 L124.07,173.64 L124.58,173.56 L125.09,173.48 L125.6,173.41 L126.12,173.35 L126.63,173.29 L127.14,173.23 L127.65,173.18 L128.16,173.14 L128.68,173.1 L129.19,173.06 L129.7,173.02 L130.21,172.99 L130.72,172.95 L131.24,172.92 L131.75,172.9 L132.26,172.87 L132.77,172.85 L133.28,172.82 L133.79,172.8 L134.31,172.78 L134.82,172.76 L135.33,172.75 L135.84,172.73 L136.35,172.71 L136.87,172.7 L137.38,172.68 L137.89,172.67 L138.4,172.66 L138.91,172.64 L139.43,172.63 L139.94,172.62 L140.45,172.61 L140.96,172.6 L141.47,172.59 L141.98,172.58 L142.5,172.57 L143.01,172.57 L143.52,172.56 L144.03,172.55 L144.54,172.54 L145.06,172.54 L145.57,172.53 L146.08,172.52 L146.59,172.52 L147.1,172.51 L147.62,172.5 L148.13,172.5 L148.64,172.49 L149.15,172.49 L149.66,172.48 L150.17,172.48 L150.69,172.47 L151.2,172.47 L151.71,172.47 L152.22,172.46 L152.73,172.46 L153.25,172.45 L153.76,172.45 L154.27,172.45 L154.78,172.44 L155.29,172.44 L155.81,172.44 L156.32,172.43 L156.83,172.43 L157.34,172.43 L157.85,172.42 L158.37,172.42 L158.88,172.42 L159.39,172.42 L159.9,172.41 L160.41,172.41 L160.92,172.41 L161.44,172.41 L161.95,172.41 L162.46,172.4 L162.97,172.4 L163.48,172.4 L164,172.4 L164.51,172.4" stroke="#a060e6" stroke-width="1.1" fill="none"/>
<rect x="39.6" y="99.2" width="180.3" height="145.1" fill="none" stroke="#111" stroke-width="1.3"/>
<path d="M39.6,243.95 h2.6 M39.6,234.93 h1.5 M39.6,225.9 h2.6 M39.6,216.88 h1.5 M39.6,207.85 h2.6 M39.6,198.82 h1.5 M39.6,189.8 h2.6 M39.6,180.78 h1.5 M39.6,171.75 h2.6 M39.6,162.72 h1.5 M39.6,153.7 h2.6 M39.6,144.68 h1.5 M39.6,135.65 h2.6 M39.6,126.62 h1.5 M39.6,117.6 h2.6 M39.6,108.58 h1.5 M39.6,99.55 h2.6 M47.8,244.3 v-2.6 M68.27,244.3 v-1.5 M88.75,244.3 v-2.6 M109.22,244.3 v-1.5 M129.7,244.3 v-2.6 M150.17,244.3 v-1.5 M170.65,244.3 v-2.6 M191.12,244.3 v-1.5 M211.6,244.3 v-2.6" stroke="#111" stroke-width="1" fill="none"/>
<text x="36.1" y="246.75" class="b" font-size="7.3" text-anchor="end" fill="#111"><tspan dy="-0.7">-</tspan><tspan dy="0.7" dx="-0.6">200</tspan></text>
<text x="36.1" y="228.7" class="b" font-size="7.3" text-anchor="end" fill="#111"><tspan dy="-0.7">-</tspan><tspan dy="0.7" dx="-0.6">150</tspan></text>
<text x="36.1" y="210.65" class="b" font-size="7.3" text-anchor="end" fill="#111"><tspan dy="-0.7">-</tspan><tspan dy="0.7" dx="-0.6">100</tspan></text>
<text x="36.1" y="192.6" class="b" font-size="7.3" text-anchor="end" fill="#111"><tspan dy="-0.7">-</tspan><tspan dy="0.7" dx="-0.6">50</tspan></text>
<text x="36.1" y="174.55" class="b" font-size="7.3" text-anchor="end" fill="#111">0</text>
<text x="36.1" y="156.5" class="b" font-size="7.3" text-anchor="end" fill="#111">50</text>
<text x="36.1" y="138.45" class="b" font-size="7.3" text-anchor="end" fill="#111">100</text>
<text x="36.1" y="120.4" class="b" font-size="7.3" text-anchor="end" fill="#111">150</text>
<text x="36.1" y="102.35" class="b" font-size="7.3" text-anchor="end" fill="#111">200</text>
<text x="47.3" y="253.8" class="b" font-size="7.3" text-anchor="middle" fill="#111"><tspan dy="-0.7">-</tspan><tspan dy="0.7" dx="-0.6">2</tspan></text>
<text x="88.25" y="253.8" class="b" font-size="7.3" text-anchor="middle" fill="#111"><tspan dy="-0.7">-</tspan><tspan dy="0.7" dx="-0.6">1</tspan></text>
<text x="129.2" y="253.8" class="b" font-size="7.3" text-anchor="middle" fill="#111">0</text>
<text x="170.15" y="253.8" class="b" font-size="7.3" text-anchor="middle" fill="#111">1</text>
<text x="211.1" y="253.8" class="b" font-size="7.3" text-anchor="middle" fill="#111">2</text>
<text transform="translate(20.2,198) rotate(-90)" class="b" font-size="8.4" fill="#111" textLength="51.5">Current (µA)</text>
<path d="M42.9,104.1 h18.3" stroke="#222222" stroke-width="1.4"/>
<text x="63.4" y="106.8" class="b" font-size="8" fill="#111">25 <tspan font-size="6.2" dx="0.3" dy="-1.5">°</tspan><tspan dx="0.7" dy="1.5">C</tspan></text>
<path d="M42.9,113.8 h18.3" stroke="#f53030" stroke-width="1.4"/>
<text x="63.4" y="116.5" class="b" font-size="8" fill="#111">50 <tspan font-size="6.2" dx="0.3" dy="-1.5">°</tspan><tspan dx="0.7" dy="1.5">C</tspan></text>
<path d="M42.9,123.5 h18.3" stroke="#1f5ae6" stroke-width="1.4"/>
<text x="63.4" y="126.2" class="b" font-size="8" fill="#111">75 <tspan font-size="6.2" dx="0.3" dy="-1.5">°</tspan><tspan dx="0.7" dy="1.5">C</tspan></text>
<path d="M42.9,133.2 h18.3" stroke="#1e9e4e" stroke-width="1.4"/>
<text x="63.4" y="135.9" class="b" font-size="8" fill="#111">100 <tspan font-size="6.2" dx="0.3" dy="-1.5">°</tspan><tspan dx="0.7" dy="1.5">C</tspan></text>
<path d="M42.9,142.9 h18.3" stroke="#a060e6" stroke-width="1.4"/>
<text x="63.4" y="145.6" class="b" font-size="8" fill="#111">125 <tspan font-size="6.2" dx="0.3" dy="-1.5">°</tspan><tspan dx="0.7" dy="1.5">C</tspan></text>
<path d="M95.8,104.1 h18.3" stroke="#e39e21" stroke-width="1.4"/>
<text x="116.4" y="106.8" class="b" font-size="8" fill="#111">150 <tspan font-size="6.2" dx="0.3" dy="-1.5">°</tspan><tspan dx="0.7" dy="1.5">C</tspan></text>
<path d="M95.8,113.8 h18.3" stroke="#20d0dc" stroke-width="1.4"/>
<text x="116.4" y="116.5" class="b" font-size="8" fill="#111">175 <tspan font-size="6.2" dx="0.3" dy="-1.5">°</tspan><tspan dx="0.7" dy="1.5">C</tspan></text>
<path d="M95.8,123.5 h18.3" stroke="#7a3838" stroke-width="1.4"/>
<text x="116.4" y="126.2" class="b" font-size="8" fill="#111">200 <tspan font-size="6.2" dx="0.3" dy="-1.5">°</tspan><tspan dx="0.7" dy="1.5">C</tspan></text>
<path d="M95.8,133.2 h18.3" stroke="#8c8c14" stroke-width="1.4"/>
<text x="116.4" y="135.9" class="b" font-size="8" fill="#111">225 <tspan font-size="6.2" dx="0.3" dy="-1.5">°</tspan><tspan dx="0.7" dy="1.5">C</tspan></text>
<text x="183.2" y="134.9" class="b" font-size="7.7" fill="#111" textLength="32" style="stroke-width:0.3px">Leakage</text>
<text x="122.4" y="214.6" class="b" font-size="7.9" fill="#111" textLength="70.8" style="stroke-width:0.3px">Switching Current</text>
<path d="M191,151.7 L203.5,140.6" stroke="#111" stroke-width="1"/>
<path d="M205.2,139.2 L201.2,141.2 L202.8,142.9 Z" fill="#111" stroke="#111" stroke-width="0.6"/>
<path d="M115.6,186.4 L121.1,200.8" stroke="#111" stroke-width="1"/>
<path d="M122.3,203.8 L119.9,199.9 L122.1,199.1 Z" fill="#111" stroke="#111" stroke-width="0.6"/>
<g fill="none" stroke-width="1.25" stroke-linejoin="round" stroke-linecap="butt">
<path d="M428.9,169.8C426.58,170.15 420.15,171.35 415,171.9C409.85,172.45 404.67,172.45 398,173.1C391.33,173.75 381.67,175.2 375,175.8C368.33,176.4 362.17,176.33 358,176.7C353.83,177.07 352.08,177.35 350,178C347.92,178.65 346.67,179.37 345.5,180.6C344.33,181.83 343.83,183.75 343,185.4C342.17,187.05 341.83,189.23 340.5,190.5C339.17,191.77 338.42,192.22 335,193C331.58,193.78 325.83,194.7 320,195.2C314.17,195.7 305.78,195.9 300,196C294.22,196.1 287.75,195.83 285.3,195.8" stroke="#222222"/>
<path d="M285.3,195.8C287.75,196 294.22,196.73 300,197C305.78,197.27 310.5,197.37 320,197.4C329.5,197.43 350.83,197.23 357,197.2" stroke="#222222"/>
<path d="M357,196.1C360.5,195.67 372.83,194.22 378,193.5C383.17,192.78 385.9,192.48 388,191.8C390.1,191.12 389.83,190.53 390.6,189.4C391.37,188.27 391.98,186.08 392.6,185C393.22,183.92 392.87,184 394.3,182.9C395.73,181.8 397.25,179.82 401.2,178.4C405.15,176.98 414.2,175.45 418,174.4C421.8,173.35 422.18,172.87 424,172.1C425.82,171.33 428.08,170.18 428.9,169.8" stroke="#222222"/>
<path d="M428.9,169.8C426.58,170.13 420.15,171.28 415,171.8C409.85,172.32 404.67,172.28 398,172.9C391.33,173.52 381.67,174.9 375,175.5C368.33,176.1 362.17,176 358,176.5C353.83,177 352,177.78 350,178.5C348,179.22 347.03,180.13 346,180.8C344.97,181.47 344.55,181.8 343.8,182.5C343.05,183.2 342.63,183.75 341.5,185C340.37,186.25 339.75,188.5 337,190C334.25,191.5 331.17,193 325,194C318.83,195 306.62,195.7 300,196C293.38,196.3 287.75,195.83 285.3,195.8" stroke="#f53030"/>
<path d="M285.3,195.8C287.75,196 294.22,196.72 300,197C305.78,197.28 310.5,197.47 320,197.5C329.5,197.53 350.83,197.25 357,197.2" stroke="#f53030"/>
<path d="M357,195.8C360.5,195.38 372.83,194 378,193.3C383.17,192.6 385.88,192.28 388,191.6C390.12,190.92 389.92,190.33 390.7,189.2C391.48,188.07 392.08,185.88 392.7,184.8C393.32,183.72 392.98,183.8 394.4,182.7C395.82,181.6 397.27,179.62 401.2,178.2C405.13,176.78 414.2,175.23 418,174.2C421.8,173.17 422.18,172.73 424,172C425.82,171.27 428.08,170.17 428.9,169.8" stroke="#f53030"/>
<path d="M428.9,169.8C426.58,170.1 420.15,171.13 415,171.6C409.85,172.07 404.67,172 398,172.6C391.33,173.2 381.67,174.62 375,175.2C368.33,175.78 362.17,175.73 358,176.1C353.83,176.47 352.08,176.72 350,177.4C347.92,178.08 346.67,178.93 345.5,180.2C344.33,181.47 343.83,183.33 343,185C342.17,186.67 341.83,188.9 340.5,190.2C339.17,191.5 338.42,192 335,192.8C331.58,193.6 325.83,194.48 320,195C314.17,195.52 305.78,195.77 300,195.9C294.22,196.03 287.75,195.82 285.3,195.8" stroke="#1f5ae6"/>
<path d="M285.3,195.8C287.75,195.97 294.22,196.58 300,196.8C305.78,197.02 310.5,197.08 320,197.1C329.5,197.12 350.83,196.93 357,196.9" stroke="#1f5ae6"/>
<path d="M357,195.6C360.5,195.17 372.83,193.72 378,193C383.17,192.28 385.92,191.97 388,191.3C390.08,190.63 389.75,190.12 390.5,189C391.25,187.88 391.88,185.68 392.5,184.6C393.12,183.52 392.75,183.6 394.2,182.5C395.65,181.4 397.23,179.42 401.2,178C405.17,176.58 414.2,175.03 418,174C421.8,172.97 422.18,172.5 424,171.8C425.82,171.1 428.08,170.13 428.9,169.8" stroke="#1f5ae6"/>
<path d="M428.9,169.8C426.58,169.9 420.15,170.22 415,170.4C409.85,170.58 404.67,170.42 398,170.9C391.33,171.38 381.67,172.67 375,173.3C368.33,173.93 362.17,174.28 358,174.7C353.83,175.12 352,175.2 350,175.8C348,176.4 347.08,177.1 346,178.3C344.92,179.5 344.33,181.22 343.5,183C342.67,184.78 342.42,187.47 341,189C339.58,190.53 338.5,191.27 335,192.2C331.5,193.13 325.83,194.02 320,194.6C314.17,195.18 305.78,195.5 300,195.7C294.22,195.9 287.75,195.78 285.3,195.8" stroke="#1e9e4e"/>
<path d="M285.3,195.8C287.75,196.05 294.22,196.93 300,197.3C305.78,197.67 310.5,197.85 320,198C329.5,198.15 350.83,198.17 357,198.2" stroke="#1e9e4e"/>
<path d="M357,196.5C360.5,196.13 372.83,194.97 378,194.3C383.17,193.63 385.97,193.38 388,192.5C390.03,191.62 389.5,190.45 390.2,189C390.9,187.55 391.53,185.03 392.2,183.8C392.87,182.57 392.4,182.63 394.2,181.6C396,180.57 399.03,178.88 403,177.6C406.97,176.32 414.5,174.87 418,173.9C421.5,172.93 422.18,172.48 424,171.8C425.82,171.12 428.08,170.13 428.9,169.8" stroke="#1e9e4e"/>
<path d="M428.9,169.8C427.08,169.65 421.98,169.03 418,168.9C414.02,168.77 408.33,168.95 405,169C401.67,169.05 403,168.82 398,169.2C393,169.58 381.67,170.7 375,171.3C368.33,171.9 362.17,172.32 358,172.8C353.83,173.28 351.95,173.58 350,174.2C348.05,174.82 347.3,175.37 346.3,176.5C345.3,177.63 344.8,179.17 344,181C343.2,182.83 342.83,185.9 341.5,187.5C340.17,189.1 337.92,189.78 336,190.6C334.08,191.42 334.33,191.73 330,192.4C325.67,193.07 315.83,194.07 310,194.6C304.17,195.13 299.12,195.4 295,195.6C290.88,195.8 286.92,195.77 285.3,195.8" stroke="#a060e6"/>
<path d="M285.3,195.8C287.75,196.08 294.22,197.08 300,197.5C305.78,197.92 310.5,198.08 320,198.3C329.5,198.52 350.83,198.72 357,198.8" stroke="#a060e6"/>
<path d="M357,198.9C360.5,198.55 372.58,197.45 378,196.8C383.42,196.15 387.12,195.97 389.5,195C391.88,194.03 391.47,192.58 392.3,191C393.13,189.42 393.85,186.77 394.5,185.5C395.15,184.23 394.45,184.4 396.2,183.4C397.95,182.4 401.37,180.83 405,179.5C408.63,178.17 414.83,176.55 418,175.4C421.17,174.25 422.18,173.53 424,172.6C425.82,171.67 428.08,170.27 428.9,169.8" stroke="#a060e6"/>
<path d="M428.9,169.8C427.42,169.43 423.15,168.07 420,167.6C416.85,167.13 413.67,167.2 410,167C406.33,166.8 403.83,166.17 398,166.4C392.17,166.63 381.67,167.82 375,168.4C368.33,168.98 362.17,169.33 358,169.9C353.83,170.47 351.92,171.15 350,171.8C348.08,172.45 347.45,172.85 346.5,173.8C345.55,174.75 345.02,175.88 344.3,177.5C343.58,179.12 343.25,182 342.2,183.5C341.15,185 340.03,185.45 338,186.5C335.97,187.55 334.38,188.82 330,189.8C325.62,190.78 317.53,191.6 311.7,192.4C305.87,193.2 299.4,194.03 295,194.6C290.6,195.17 286.92,195.6 285.3,195.8" stroke="#e39e21"/>
<path d="M285.3,195.8C287.75,196.1 294.22,197.18 300,197.6C305.78,198.02 313.33,198.17 320,198.3C326.67,198.43 333.83,198.42 340,198.4C346.17,198.38 354.17,198.23 357,198.2" stroke="#e39e21"/>
<path d="M357,203.2C360.5,202.88 372.42,201.9 378,201.3C383.58,200.7 387.9,200.98 390.5,199.6C393.1,198.22 392.68,195.35 393.6,193C394.52,190.65 395.3,187.18 396,185.5C396.7,183.82 396.3,183.75 397.8,182.9C399.3,182.05 401.63,181.37 405,180.4C408.37,179.43 414.83,178.25 418,177.1C421.17,175.95 422.18,174.72 424,173.5C425.82,172.28 428.08,170.42 428.9,169.8" stroke="#e39e21"/>
<path d="M428.9,169.8C428.17,169.42 425.85,168.18 424.5,167.5C423.15,166.82 422.72,166.33 420.8,165.7C418.88,165.07 415.32,164.2 413,163.7C410.68,163.2 409.4,163.1 406.9,162.7C404.4,162.3 403.32,161.32 398,161.3C392.68,161.28 381.67,162.05 375,162.6C368.33,163.15 362,163.98 358,164.6C354,165.22 352.83,165.68 351,166.3C349.17,166.92 348.07,167.35 347,168.3C345.93,169.25 345.37,170.3 344.6,172C343.83,173.7 343.25,176.63 342.4,178.5C341.55,180.37 341.57,181.82 339.5,183.2C337.43,184.58 333.25,185.98 330,186.8C326.75,187.62 323.33,187.58 320,188.1C316.67,188.62 313.33,189.25 310,189.9C306.67,190.55 303.17,191.23 300,192C296.83,192.77 293.45,193.87 291,194.5C288.55,195.13 286.25,195.58 285.3,195.8" stroke="#20d0dc"/>
<path d="M285.3,195.8C286.42,196.27 289.55,197.87 292,198.6C294.45,199.33 296.17,199.8 300,200.2C303.83,200.6 309.17,200.85 315,201C320.83,201.15 328,201.17 335,201.1C342,201.03 353.33,200.68 357,200.6" stroke="#20d0dc"/>
<path d="M357,208.4C360.5,208.1 372.08,207.23 378,206.6C383.92,205.97 389.53,205.87 392.5,204.6C395.47,203.33 394.78,201.43 395.8,199C396.82,196.57 397.7,192.17 398.6,190C399.5,187.83 399.63,187.17 401.2,186C402.77,184.83 405.2,184.03 408,183C410.8,181.97 415.33,181.05 418,179.8C420.67,178.55 422.18,177.17 424,175.5C425.82,173.83 428.08,170.75 428.9,169.8" stroke="#20d0dc"/>
<path d="M428.9,169.8C428.17,168.92 425.85,165.98 424.5,164.5C423.15,163.02 422.72,162.27 420.8,160.9C418.88,159.53 415.32,157.42 413,156.3C410.68,155.18 409.9,154.82 406.9,154.2C403.9,153.58 400.32,152.9 395,152.6C389.68,152.3 380.83,152.12 375,152.4C369.17,152.68 364.1,153.67 360,154.3C355.9,154.93 352.65,155.55 350.4,156.2C348.15,156.85 347.47,157.23 346.5,158.2C345.53,159.17 345.15,160.37 344.6,162C344.05,163.63 343.72,166 343.2,168C342.68,170 342.32,172.23 341.5,174C340.68,175.77 339.72,177.52 338.3,178.6C336.88,179.68 336.05,179.9 333,180.5C329.95,181.1 323.83,181.52 320,182.2C316.17,182.88 313.33,183.7 310,184.6C306.67,185.5 303,186.43 300,187.6C297,188.77 294.45,190.23 292,191.6C289.55,192.97 286.42,195.1 285.3,195.8" stroke="#7a3838"/>
<path d="M285.3,195.8C286.08,196.37 287.55,198.37 290,199.2C292.45,200.03 296.67,200.23 300,200.8C303.33,201.37 306.67,202.12 310,202.6C313.33,203.08 315.83,203.48 320,203.7C324.17,203.92 330.83,203.98 335,203.9C339.17,203.82 341.33,203.52 345,203.2C348.67,202.88 355,202.2 357,202" stroke="#7a3838"/>
<path d="M357,221.3C360,221.05 369.92,220.25 375,219.8C380.08,219.35 384.92,219.15 387.5,218.6C390.08,218.05 389.67,218.27 390.5,216.5C391.33,214.73 391.83,210.92 392.5,208C393.17,205.08 393.75,201.03 394.5,199C395.25,196.97 395.75,196.83 397,195.8C398.25,194.77 399.83,194 402,192.8C404.17,191.6 407.33,190.32 410,188.6C412.67,186.88 415.67,184.43 418,182.5C420.33,180.57 422.18,179.12 424,177C425.82,174.88 428.08,171 428.9,169.8" stroke="#7a3838"/>
<path d="M428.9,169.8C428.22,168.48 426.48,165.2 424.8,161.9C423.12,158.6 421.27,153.48 418.8,150C416.33,146.52 413.13,143.08 410,141C406.87,138.92 404.17,138.27 400,137.5C395.83,136.73 390,136.52 385,136.4C380,136.28 374.67,136.45 370,136.8C365.33,137.15 360.33,137.88 357,138.5C353.67,139.12 351.67,139.67 350,140.5C348.33,141.33 347.95,141.58 347,143.5C346.05,145.42 345.22,149.25 344.3,152C343.38,154.75 342.72,158.07 341.5,160C340.28,161.93 339.05,162.8 337,163.6C334.95,164.4 332.08,164.35 329.2,164.8C326.32,165.25 322.62,165.72 319.7,166.3C316.78,166.88 314.23,167.48 311.7,168.3C309.17,169.12 306.58,170.22 304.5,171.2C302.42,172.18 300.95,173.03 299.2,174.2C297.45,175.37 295.4,176.73 294,178.2C292.6,179.67 291.82,181.17 290.8,183C289.78,184.83 288.82,187.07 287.9,189.2C286.98,191.33 285.73,194.7 285.3,195.8" stroke="#8c8c14"/>
<path d="M285.3,195.8C285.58,196.5 285.98,198.47 287,200C288.02,201.53 289.65,203.33 291.4,205C293.15,206.67 295.03,208.33 297.5,210C299.97,211.67 303.28,213.67 306.2,215C309.12,216.33 312.2,217.35 315,218C317.8,218.65 320,218.72 323,218.9C326,219.08 329.33,219.18 333,219.1C336.67,219.02 341,218.67 345,218.4C349,218.13 355,217.65 357,217.5" stroke="#8c8c14"/>
<path d="M357,234.7C360,234.33 369.75,233.23 375,232.5C380.25,231.77 385.5,231.22 388.5,230.3C391.5,229.38 391.77,229.38 393,227C394.23,224.62 395.07,219 395.9,216C396.73,213 397.12,210.87 398,209C398.88,207.13 399.53,206.38 401.2,204.8C402.87,203.22 405.2,201.8 408,199.5C410.8,197.2 415.5,193.67 418,191C420.5,188.33 421.58,185.92 423,183.5C424.42,181.08 425.52,178.78 426.5,176.5C427.48,174.22 428.5,170.92 428.9,169.8" stroke="#8c8c14"/>
</g>
<rect x="266.7" y="99.2" width="179.9" height="145.1" fill="none" stroke="#111" stroke-width="1.3"/>
<path d="M266.7,244.27 h1.5 M266.7,232.76 h2.6 M266.7,221.25 h1.5 M266.7,209.73 h2.6 M266.7,198.21 h1.5 M266.7,186.7 h2.6 M266.7,175.19 h1.5 M266.7,163.67 h2.6 M266.7,152.15 h1.5 M266.7,140.64 h2.6 M266.7,129.12 h1.5 M266.7,117.61 h2.6 M266.7,106.09 h1.5 M284.9,244.3 v-2.6 M302.9,244.3 v-1.5 M320.9,244.3 v-2.6 M338.9,244.3 v-1.5 M356.9,244.3 v-2.6 M374.9,244.3 v-1.5 M392.9,244.3 v-2.6 M410.9,244.3 v-1.5 M428.9,244.3 v-2.6" stroke="#111" stroke-width="1" fill="none"/>
<text x="262.5" y="235.56" class="b" font-size="7.3" text-anchor="end" fill="#111"><tspan dy="-0.7">-</tspan><tspan dy="0.7" dx="-0.6">100</tspan></text>
<text x="262.5" y="212.53" class="b" font-size="7.3" text-anchor="end" fill="#111"><tspan dy="-0.7">-</tspan><tspan dy="0.7" dx="-0.6">50</tspan></text>
<text x="262.5" y="189.5" class="b" font-size="7.3" text-anchor="end" fill="#111">0</text>
<text x="262.5" y="166.47" class="b" font-size="7.3" text-anchor="end" fill="#111">50</text>
<text x="262.5" y="143.44" class="b" font-size="7.3" text-anchor="end" fill="#111">100</text>
<text x="262.5" y="120.41" class="b" font-size="7.3" text-anchor="end" fill="#111">150</text>
<text x="284.4" y="253.8" class="b" font-size="7.3" text-anchor="middle" fill="#111"><tspan dy="-0.7">-</tspan><tspan dy="0.7" dx="-0.6">2</tspan></text>
<text x="320.4" y="253.8" class="b" font-size="7.3" text-anchor="middle" fill="#111"><tspan dy="-0.7">-</tspan><tspan dy="0.7" dx="-0.6">1</tspan></text>
<text x="356.4" y="253.8" class="b" font-size="7.3" text-anchor="middle" fill="#111">0</text>
<text x="392.4" y="253.8" class="b" font-size="7.3" text-anchor="middle" fill="#111">1</text>
<text x="428.4" y="253.8" class="b" font-size="7.3" text-anchor="middle" fill="#111">2</text>
<text transform="translate(247.2,212.2) rotate(-90)" class="b" font-size="8.6" fill="#111" textLength="89.5">Polarizaiton (µC/cm<tspan font-size="6" dy="-3.4">2</tspan><tspan dy="3.4">)</tspan></text>
<path d="M271,104.1 h18.6" stroke="#222222" stroke-width="1.4"/>
<text x="291.6" y="106.8" class="b" font-size="8" fill="#111">25 <tspan font-size="6.2" dx="0.3" dy="-1.5">°</tspan><tspan dx="0.7" dy="1.5">C</tspan></text>
<path d="M271,113.7 h18.6" stroke="#f53030" stroke-width="1.4"/>
<text x="291.6" y="116.4" class="b" font-size="8" fill="#111">50 <tspan font-size="6.2" dx="0.3" dy="-1.5">°</tspan><tspan dx="0.7" dy="1.5">C</tspan></text>
<path d="M271,123.3 h18.6" stroke="#1f5ae6" stroke-width="1.4"/>
<text x="291.6" y="126" class="b" font-size="8" fill="#111">75 <tspan font-size="6.2" dx="0.3" dy="-1.5">°</tspan><tspan dx="0.7" dy="1.5">C</tspan></text>
<path d="M271,133.3 h18.6" stroke="#1e9e4e" stroke-width="1.4"/>
<text x="291.6" y="136" class="b" font-size="8" fill="#111">100 <tspan font-size="6.2" dx="0.3" dy="-1.5">°</tspan><tspan dx="0.7" dy="1.5">C</tspan></text>
<path d="M271,143 h18.6" stroke="#a060e6" stroke-width="1.4"/>
<text x="291.6" y="145.7" class="b" font-size="8" fill="#111">125 <tspan font-size="6.2" dx="0.3" dy="-1.5">°</tspan><tspan dx="0.7" dy="1.5">C</tspan></text>
<path d="M324.2,104.1 h18.6" stroke="#e39e21" stroke-width="1.4"/>
<text x="345.3" y="106.8" class="b" font-size="8" fill="#111">150 <tspan font-size="6.2" dx="0.3" dy="-1.5">°</tspan><tspan dx="0.7" dy="1.5">C</tspan></text>
<path d="M324.2,113.7 h18.6" stroke="#20d0dc" stroke-width="1.4"/>
<text x="345.3" y="116.4" class="b" font-size="8" fill="#111">175 <tspan font-size="6.2" dx="0.3" dy="-1.5">°</tspan><tspan dx="0.7" dy="1.5">C</tspan></text>
<path d="M324.2,123.3 h18.6" stroke="#7a3838" stroke-width="1.4"/>
<text x="345.3" y="126" class="b" font-size="8" fill="#111">200 <tspan font-size="6.2" dx="0.3" dy="-1.5">°</tspan><tspan dx="0.7" dy="1.5">C</tspan></text>
<path d="M324.2,133.3 h18.6" stroke="#8c8c14" stroke-width="1.4"/>
<text x="345.3" y="136" class="b" font-size="8" fill="#111">225 <tspan font-size="6.2" dx="0.3" dy="-1.5">°</tspan><tspan dx="0.7" dy="1.5">C</tspan></text>
<text x="372.4" y="112.7" class="b" font-size="7.6" fill="#111" textLength="61.3" style="stroke-width:0.3px">Temperature up</text>
<path d="M398,166 V120" stroke="#111" stroke-width="1"/>
<path d="M398,116.8 L396.6,121.5 L399.4,121.5 Z" fill="#111"/>
</svg>
</body></html>
